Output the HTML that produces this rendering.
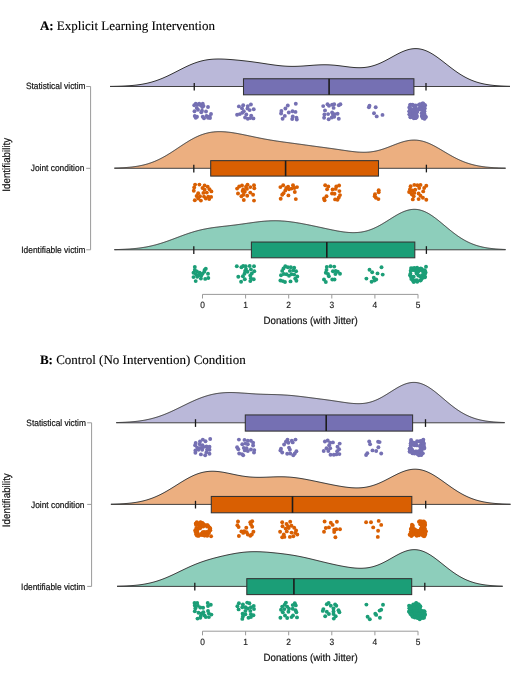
<!DOCTYPE html>
<html><head><meta charset="utf-8"><style>
html,body{margin:0;padding:0;background:#fff;}
svg{display:block;}
text{text-rendering:geometricPrecision;}
.title{font-family:"Liberation Serif",serif;font-size:13px;fill:#000;stroke:#000;stroke-width:0.12px;}
.ylab{font-family:"Liberation Sans",sans-serif;font-size:8.4px;fill:#111;stroke:#111;stroke-width:0.18px;}
.ylab2{font-family:"Liberation Sans",sans-serif;font-size:9.8px;fill:#111;stroke:#111;stroke-width:0.18px;}
.tick{font-family:"Liberation Sans",sans-serif;font-size:8.4px;fill:#222;stroke:#222;stroke-width:0.15px;}
.xlab{font-family:"Liberation Sans",sans-serif;font-size:9.7px;fill:#111;stroke:#111;stroke-width:0.18px;}
</style></head><body>
<svg width="520" height="683" viewBox="0 0 520 683">
<text transform="translate(39.90,29.80)" class="title" style="font-size:13.0px"><tspan font-weight="bold">A:</tspan> Explicit Learning Intervention</text>
<line x1="90.6" y1="86.5" x2="90.6" y2="249.8" stroke="#9a9a9a" stroke-width="1"/>
<line x1="86.19999999999999" y1="86.5" x2="90.6" y2="86.5" stroke="#9a9a9a" stroke-width="1"/>
<text transform="translate(85.50,89.40) scale(1.0,1.1)" class="ylab" style="font-size:8.4px" text-anchor="end">Statistical victim</text>
<line x1="86.19999999999999" y1="168.3" x2="90.6" y2="168.3" stroke="#9a9a9a" stroke-width="1"/>
<text transform="translate(84.30,171.45) scale(1.0,1.1)" class="ylab" style="font-size:8.4px" text-anchor="end">Joint condition</text>
<line x1="86.19999999999999" y1="249.8" x2="90.6" y2="249.8" stroke="#9a9a9a" stroke-width="1"/>
<text transform="translate(85.50,253.10) scale(1.0,1.1)" class="ylab" style="font-size:8.4px" text-anchor="end">Identifiable victim</text>
<text transform="translate(39.90,363.90)" class="title" style="font-size:13.0px"><tspan font-weight="bold">B:</tspan> Control (No Intervention) Condition</text>
<line x1="91.6" y1="422.8" x2="91.6" y2="586.4" stroke="#9a9a9a" stroke-width="1"/>
<line x1="87.19999999999999" y1="422.8" x2="91.6" y2="422.8" stroke="#9a9a9a" stroke-width="1"/>
<text transform="translate(85.90,425.70) scale(1.0,1.1)" class="ylab" style="font-size:8.4px" text-anchor="end">Statistical victim</text>
<line x1="87.19999999999999" y1="504.4" x2="91.6" y2="504.4" stroke="#9a9a9a" stroke-width="1"/>
<text transform="translate(84.50,508.00) scale(1.0,1.1)" class="ylab" style="font-size:8.4px" text-anchor="end">Joint condition</text>
<line x1="87.19999999999999" y1="586.4" x2="91.6" y2="586.4" stroke="#9a9a9a" stroke-width="1"/>
<text transform="translate(85.30,589.70) scale(1.0,1.1)" class="ylab" style="font-size:8.4px" text-anchor="end">Identifiable victim</text>
<path d="M110.0,86.5 L110.0,86.39 L111.0,86.38 L112.0,86.37 L113.0,86.35 L114.0,86.33 L115.0,86.31 L116.0,86.29 L117.0,86.27 L118.0,86.24 L119.0,86.21 L120.0,86.18 L121.0,86.15 L122.0,86.11 L123.0,86.07 L124.0,86.02 L125.0,85.98 L126.0,85.92 L127.0,85.87 L128.0,85.80 L129.0,85.74 L130.0,85.66 L131.0,85.58 L132.0,85.50 L133.0,85.41 L134.0,85.31 L135.0,85.21 L136.0,85.09 L137.0,84.97 L138.0,84.84 L139.0,84.70 L140.0,84.56 L141.0,84.40 L142.0,84.24 L143.0,84.06 L144.0,83.87 L145.0,83.68 L146.0,83.47 L147.0,83.25 L148.0,83.01 L149.0,82.77 L150.0,82.52 L151.0,82.25 L152.0,81.97 L153.0,81.67 L154.0,81.37 L155.0,81.05 L156.0,80.72 L157.0,80.37 L158.0,80.01 L159.0,79.64 L160.0,79.26 L161.0,78.87 L162.0,78.46 L163.0,78.04 L164.0,77.61 L165.0,77.17 L166.0,76.72 L167.0,76.27 L168.0,75.80 L169.0,75.32 L170.0,74.84 L171.0,74.34 L172.0,73.85 L173.0,73.34 L174.0,72.84 L175.0,72.33 L176.0,71.81 L177.0,71.30 L178.0,70.79 L179.0,70.27 L180.0,69.76 L181.0,69.25 L182.0,68.74 L183.0,68.24 L184.0,67.75 L185.0,67.26 L186.0,66.78 L187.0,66.31 L188.0,65.85 L189.0,65.40 L190.0,64.96 L191.0,64.53 L192.0,64.12 L193.0,63.72 L194.0,63.34 L195.0,62.97 L196.0,62.62 L197.0,62.28 L198.0,61.96 L199.0,61.65 L200.0,61.37 L201.0,61.10 L202.0,60.85 L203.0,60.61 L204.0,60.40 L205.0,60.20 L206.0,60.02 L207.0,59.85 L208.0,59.70 L209.0,59.57 L210.0,59.45 L211.0,59.35 L212.0,59.26 L213.0,59.19 L214.0,59.13 L215.0,59.08 L216.0,59.05 L217.0,59.03 L218.0,59.01 L219.0,59.01 L220.0,59.02 L221.0,59.04 L222.0,59.06 L223.0,59.10 L224.0,59.14 L225.0,59.18 L226.0,59.24 L227.0,59.30 L228.0,59.36 L229.0,59.43 L230.0,59.50 L231.0,59.57 L232.0,59.65 L233.0,59.74 L234.0,59.82 L235.0,59.91 L236.0,60.00 L237.0,60.10 L238.0,60.19 L239.0,60.29 L240.0,60.39 L241.0,60.49 L242.0,60.60 L243.0,60.71 L244.0,60.82 L245.0,60.93 L246.0,61.04 L247.0,61.16 L248.0,61.28 L249.0,61.40 L250.0,61.53 L251.0,61.65 L252.0,61.78 L253.0,61.92 L254.0,62.05 L255.0,62.19 L256.0,62.33 L257.0,62.47 L258.0,62.62 L259.0,62.76 L260.0,62.91 L261.0,63.06 L262.0,63.21 L263.0,63.36 L264.0,63.52 L265.0,63.67 L266.0,63.82 L267.0,63.97 L268.0,64.13 L269.0,64.28 L270.0,64.42 L271.0,64.57 L272.0,64.71 L273.0,64.85 L274.0,64.99 L275.0,65.12 L276.0,65.25 L277.0,65.37 L278.0,65.49 L279.0,65.60 L280.0,65.71 L281.0,65.81 L282.0,65.90 L283.0,65.98 L284.0,66.06 L285.0,66.13 L286.0,66.19 L287.0,66.24 L288.0,66.29 L289.0,66.32 L290.0,66.35 L291.0,66.37 L292.0,66.38 L293.0,66.38 L294.0,66.37 L295.0,66.36 L296.0,66.34 L297.0,66.31 L298.0,66.28 L299.0,66.23 L300.0,66.18 L301.0,66.13 L302.0,66.07 L303.0,66.01 L304.0,65.94 L305.0,65.87 L306.0,65.79 L307.0,65.72 L308.0,65.64 L309.0,65.56 L310.0,65.48 L311.0,65.41 L312.0,65.33 L313.0,65.26 L314.0,65.19 L315.0,65.12 L316.0,65.06 L317.0,65.00 L318.0,64.95 L319.0,64.90 L320.0,64.86 L321.0,64.83 L322.0,64.80 L323.0,64.79 L324.0,64.78 L325.0,64.78 L326.0,64.79 L327.0,64.81 L328.0,64.83 L329.0,64.87 L330.0,64.92 L331.0,64.97 L332.0,65.04 L333.0,65.11 L334.0,65.19 L335.0,65.28 L336.0,65.38 L337.0,65.49 L338.0,65.60 L339.0,65.71 L340.0,65.83 L341.0,65.96 L342.0,66.09 L343.0,66.22 L344.0,66.35 L345.0,66.48 L346.0,66.61 L347.0,66.74 L348.0,66.87 L349.0,66.99 L350.0,67.11 L351.0,67.22 L352.0,67.32 L353.0,67.41 L354.0,67.50 L355.0,67.57 L356.0,67.63 L357.0,67.67 L358.0,67.70 L359.0,67.71 L360.0,67.71 L361.0,67.69 L362.0,67.65 L363.0,67.59 L364.0,67.52 L365.0,67.42 L366.0,67.29 L367.0,67.15 L368.0,66.99 L369.0,66.80 L370.0,66.59 L371.0,66.35 L372.0,66.09 L373.0,65.81 L374.0,65.51 L375.0,65.18 L376.0,64.83 L377.0,64.46 L378.0,64.07 L379.0,63.66 L380.0,63.23 L381.0,62.79 L382.0,62.32 L383.0,61.84 L384.0,61.34 L385.0,60.83 L386.0,60.31 L387.0,59.78 L388.0,59.24 L389.0,58.70 L390.0,58.15 L391.0,57.59 L392.0,57.04 L393.0,56.48 L394.0,55.93 L395.0,55.39 L396.0,54.85 L397.0,54.32 L398.0,53.80 L399.0,53.30 L400.0,52.81 L401.0,52.34 L402.0,51.89 L403.0,51.46 L404.0,51.05 L405.0,50.67 L406.0,50.32 L407.0,50.00 L408.0,49.70 L409.0,49.44 L410.0,49.21 L411.0,49.02 L412.0,48.87 L413.0,48.75 L414.0,48.66 L415.0,48.62 L416.0,48.62 L417.0,48.65 L418.0,48.73 L419.0,48.84 L420.0,49.00 L421.0,49.20 L422.0,49.43 L423.0,49.70 L424.0,50.02 L425.0,50.37 L426.0,50.75 L427.0,51.18 L428.0,51.63 L429.0,52.13 L430.0,52.65 L431.0,53.20 L432.0,53.78 L433.0,54.39 L434.0,55.02 L435.0,55.68 L436.0,56.36 L437.0,57.06 L438.0,57.77 L439.0,58.51 L440.0,59.25 L441.0,60.01 L442.0,60.77 L443.0,61.55 L444.0,62.33 L445.0,63.11 L446.0,63.89 L447.0,64.68 L448.0,65.46 L449.0,66.24 L450.0,67.01 L451.0,67.78 L452.0,68.54 L453.0,69.29 L454.0,70.02 L455.0,70.75 L456.0,71.46 L457.0,72.15 L458.0,72.84 L459.0,73.50 L460.0,74.15 L461.0,74.78 L462.0,75.39 L463.0,75.98 L464.0,76.55 L465.0,77.10 L466.0,77.64 L467.0,78.15 L468.0,78.64 L469.0,79.11 L470.0,79.57 L471.0,80.00 L472.0,80.41 L473.0,80.81 L474.0,81.18 L475.0,81.54 L476.0,81.88 L477.0,82.20 L478.0,82.50 L479.0,82.79 L480.0,83.06 L481.0,83.31 L482.0,83.55 L483.0,83.78 L484.0,83.99 L485.0,84.19 L486.0,84.37 L487.0,84.54 L488.0,84.70 L489.0,84.85 L490.0,84.99 L491.0,85.12 L492.0,85.24 L493.0,85.35 L494.0,85.45 L495.0,85.55 L496.0,85.63 L497.0,85.71 L498.0,85.79 L499.0,85.85 L500.0,85.91 L501.0,85.97 L502.0,86.02 L503.0,86.07 L504.0,86.11 L505.0,86.15 L506.0,86.19 L507.0,86.22 L508.0,86.25 L509.0,86.28 L510.0,86.30 L510.0,86.5 Z" fill="#bab8d9" stroke="none"/>
<path d="M110.0,86.39 L111.0,86.38 L112.0,86.37 L113.0,86.35 L114.0,86.33 L115.0,86.31 L116.0,86.29 L117.0,86.27 L118.0,86.24 L119.0,86.21 L120.0,86.18 L121.0,86.15 L122.0,86.11 L123.0,86.07 L124.0,86.02 L125.0,85.98 L126.0,85.92 L127.0,85.87 L128.0,85.80 L129.0,85.74 L130.0,85.66 L131.0,85.58 L132.0,85.50 L133.0,85.41 L134.0,85.31 L135.0,85.21 L136.0,85.09 L137.0,84.97 L138.0,84.84 L139.0,84.70 L140.0,84.56 L141.0,84.40 L142.0,84.24 L143.0,84.06 L144.0,83.87 L145.0,83.68 L146.0,83.47 L147.0,83.25 L148.0,83.01 L149.0,82.77 L150.0,82.52 L151.0,82.25 L152.0,81.97 L153.0,81.67 L154.0,81.37 L155.0,81.05 L156.0,80.72 L157.0,80.37 L158.0,80.01 L159.0,79.64 L160.0,79.26 L161.0,78.87 L162.0,78.46 L163.0,78.04 L164.0,77.61 L165.0,77.17 L166.0,76.72 L167.0,76.27 L168.0,75.80 L169.0,75.32 L170.0,74.84 L171.0,74.34 L172.0,73.85 L173.0,73.34 L174.0,72.84 L175.0,72.33 L176.0,71.81 L177.0,71.30 L178.0,70.79 L179.0,70.27 L180.0,69.76 L181.0,69.25 L182.0,68.74 L183.0,68.24 L184.0,67.75 L185.0,67.26 L186.0,66.78 L187.0,66.31 L188.0,65.85 L189.0,65.40 L190.0,64.96 L191.0,64.53 L192.0,64.12 L193.0,63.72 L194.0,63.34 L195.0,62.97 L196.0,62.62 L197.0,62.28 L198.0,61.96 L199.0,61.65 L200.0,61.37 L201.0,61.10 L202.0,60.85 L203.0,60.61 L204.0,60.40 L205.0,60.20 L206.0,60.02 L207.0,59.85 L208.0,59.70 L209.0,59.57 L210.0,59.45 L211.0,59.35 L212.0,59.26 L213.0,59.19 L214.0,59.13 L215.0,59.08 L216.0,59.05 L217.0,59.03 L218.0,59.01 L219.0,59.01 L220.0,59.02 L221.0,59.04 L222.0,59.06 L223.0,59.10 L224.0,59.14 L225.0,59.18 L226.0,59.24 L227.0,59.30 L228.0,59.36 L229.0,59.43 L230.0,59.50 L231.0,59.57 L232.0,59.65 L233.0,59.74 L234.0,59.82 L235.0,59.91 L236.0,60.00 L237.0,60.10 L238.0,60.19 L239.0,60.29 L240.0,60.39 L241.0,60.49 L242.0,60.60 L243.0,60.71 L244.0,60.82 L245.0,60.93 L246.0,61.04 L247.0,61.16 L248.0,61.28 L249.0,61.40 L250.0,61.53 L251.0,61.65 L252.0,61.78 L253.0,61.92 L254.0,62.05 L255.0,62.19 L256.0,62.33 L257.0,62.47 L258.0,62.62 L259.0,62.76 L260.0,62.91 L261.0,63.06 L262.0,63.21 L263.0,63.36 L264.0,63.52 L265.0,63.67 L266.0,63.82 L267.0,63.97 L268.0,64.13 L269.0,64.28 L270.0,64.42 L271.0,64.57 L272.0,64.71 L273.0,64.85 L274.0,64.99 L275.0,65.12 L276.0,65.25 L277.0,65.37 L278.0,65.49 L279.0,65.60 L280.0,65.71 L281.0,65.81 L282.0,65.90 L283.0,65.98 L284.0,66.06 L285.0,66.13 L286.0,66.19 L287.0,66.24 L288.0,66.29 L289.0,66.32 L290.0,66.35 L291.0,66.37 L292.0,66.38 L293.0,66.38 L294.0,66.37 L295.0,66.36 L296.0,66.34 L297.0,66.31 L298.0,66.28 L299.0,66.23 L300.0,66.18 L301.0,66.13 L302.0,66.07 L303.0,66.01 L304.0,65.94 L305.0,65.87 L306.0,65.79 L307.0,65.72 L308.0,65.64 L309.0,65.56 L310.0,65.48 L311.0,65.41 L312.0,65.33 L313.0,65.26 L314.0,65.19 L315.0,65.12 L316.0,65.06 L317.0,65.00 L318.0,64.95 L319.0,64.90 L320.0,64.86 L321.0,64.83 L322.0,64.80 L323.0,64.79 L324.0,64.78 L325.0,64.78 L326.0,64.79 L327.0,64.81 L328.0,64.83 L329.0,64.87 L330.0,64.92 L331.0,64.97 L332.0,65.04 L333.0,65.11 L334.0,65.19 L335.0,65.28 L336.0,65.38 L337.0,65.49 L338.0,65.60 L339.0,65.71 L340.0,65.83 L341.0,65.96 L342.0,66.09 L343.0,66.22 L344.0,66.35 L345.0,66.48 L346.0,66.61 L347.0,66.74 L348.0,66.87 L349.0,66.99 L350.0,67.11 L351.0,67.22 L352.0,67.32 L353.0,67.41 L354.0,67.50 L355.0,67.57 L356.0,67.63 L357.0,67.67 L358.0,67.70 L359.0,67.71 L360.0,67.71 L361.0,67.69 L362.0,67.65 L363.0,67.59 L364.0,67.52 L365.0,67.42 L366.0,67.29 L367.0,67.15 L368.0,66.99 L369.0,66.80 L370.0,66.59 L371.0,66.35 L372.0,66.09 L373.0,65.81 L374.0,65.51 L375.0,65.18 L376.0,64.83 L377.0,64.46 L378.0,64.07 L379.0,63.66 L380.0,63.23 L381.0,62.79 L382.0,62.32 L383.0,61.84 L384.0,61.34 L385.0,60.83 L386.0,60.31 L387.0,59.78 L388.0,59.24 L389.0,58.70 L390.0,58.15 L391.0,57.59 L392.0,57.04 L393.0,56.48 L394.0,55.93 L395.0,55.39 L396.0,54.85 L397.0,54.32 L398.0,53.80 L399.0,53.30 L400.0,52.81 L401.0,52.34 L402.0,51.89 L403.0,51.46 L404.0,51.05 L405.0,50.67 L406.0,50.32 L407.0,50.00 L408.0,49.70 L409.0,49.44 L410.0,49.21 L411.0,49.02 L412.0,48.87 L413.0,48.75 L414.0,48.66 L415.0,48.62 L416.0,48.62 L417.0,48.65 L418.0,48.73 L419.0,48.84 L420.0,49.00 L421.0,49.20 L422.0,49.43 L423.0,49.70 L424.0,50.02 L425.0,50.37 L426.0,50.75 L427.0,51.18 L428.0,51.63 L429.0,52.13 L430.0,52.65 L431.0,53.20 L432.0,53.78 L433.0,54.39 L434.0,55.02 L435.0,55.68 L436.0,56.36 L437.0,57.06 L438.0,57.77 L439.0,58.51 L440.0,59.25 L441.0,60.01 L442.0,60.77 L443.0,61.55 L444.0,62.33 L445.0,63.11 L446.0,63.89 L447.0,64.68 L448.0,65.46 L449.0,66.24 L450.0,67.01 L451.0,67.78 L452.0,68.54 L453.0,69.29 L454.0,70.02 L455.0,70.75 L456.0,71.46 L457.0,72.15 L458.0,72.84 L459.0,73.50 L460.0,74.15 L461.0,74.78 L462.0,75.39 L463.0,75.98 L464.0,76.55 L465.0,77.10 L466.0,77.64 L467.0,78.15 L468.0,78.64 L469.0,79.11 L470.0,79.57 L471.0,80.00 L472.0,80.41 L473.0,80.81 L474.0,81.18 L475.0,81.54 L476.0,81.88 L477.0,82.20 L478.0,82.50 L479.0,82.79 L480.0,83.06 L481.0,83.31 L482.0,83.55 L483.0,83.78 L484.0,83.99 L485.0,84.19 L486.0,84.37 L487.0,84.54 L488.0,84.70 L489.0,84.85 L490.0,84.99 L491.0,85.12 L492.0,85.24 L493.0,85.35 L494.0,85.45 L495.0,85.55 L496.0,85.63 L497.0,85.71 L498.0,85.79 L499.0,85.85 L500.0,85.91 L501.0,85.97 L502.0,86.02 L503.0,86.07 L504.0,86.11 L505.0,86.15 L506.0,86.19 L507.0,86.22 L508.0,86.25 L509.0,86.28 L510.0,86.30" fill="none" stroke="#333" stroke-width="1.0"/>
<line x1="110" y1="86.5" x2="510" y2="86.5" stroke="#3a3a3a" stroke-width="0.95"/>
<line x1="194.25" y1="82.9" x2="194.25" y2="90.6" stroke="#1a1a1a" stroke-width="1.3"/>
<line x1="426.0" y1="82.9" x2="426.0" y2="90.6" stroke="#1a1a1a" stroke-width="1.3"/>
<rect x="243.5" y="78.75" width="170.40" height="16.05" fill="#7570b3" stroke="#333333" stroke-width="1.05"/>
<line x1="329.1" y1="78.75" x2="329.1" y2="94.8" stroke="#1c1c1c" stroke-width="1.6"/>
<circle cx="194.25" cy="105.25" r="1.95" fill="#7570b3"/>
<circle cx="195.75" cy="103.75" r="1.95" fill="#7570b3"/>
<circle cx="197.50" cy="104.75" r="1.95" fill="#7570b3"/>
<circle cx="199.25" cy="103.75" r="1.95" fill="#7570b3"/>
<circle cx="200.75" cy="105.25" r="1.95" fill="#7570b3"/>
<circle cx="202.75" cy="103.75" r="1.95" fill="#7570b3"/>
<circle cx="203.50" cy="106.00" r="1.95" fill="#7570b3"/>
<circle cx="202.25" cy="107.00" r="1.95" fill="#7570b3"/>
<circle cx="208.00" cy="107.00" r="1.95" fill="#7570b3"/>
<circle cx="196.75" cy="108.00" r="1.95" fill="#7570b3"/>
<circle cx="194.50" cy="111.25" r="1.95" fill="#7570b3"/>
<circle cx="198.00" cy="109.75" r="1.95" fill="#7570b3"/>
<circle cx="202.00" cy="110.75" r="1.95" fill="#7570b3"/>
<circle cx="201.25" cy="112.25" r="1.95" fill="#7570b3"/>
<circle cx="206.00" cy="111.50" r="1.95" fill="#7570b3"/>
<circle cx="211.00" cy="114.00" r="1.95" fill="#7570b3"/>
<circle cx="194.75" cy="116.00" r="1.95" fill="#7570b3"/>
<circle cx="197.00" cy="116.75" r="1.95" fill="#7570b3"/>
<circle cx="195.75" cy="117.75" r="1.95" fill="#7570b3"/>
<circle cx="202.75" cy="116.75" r="1.95" fill="#7570b3"/>
<circle cx="204.00" cy="118.25" r="1.95" fill="#7570b3"/>
<circle cx="206.50" cy="116.00" r="1.95" fill="#7570b3"/>
<circle cx="208.00" cy="117.75" r="1.95" fill="#7570b3"/>
<circle cx="209.50" cy="116.50" r="1.95" fill="#7570b3"/>
<circle cx="210.00" cy="118.00" r="1.95" fill="#7570b3"/>
<circle cx="238.90" cy="106.40" r="1.95" fill="#7570b3"/>
<circle cx="243.20" cy="105.20" r="1.95" fill="#7570b3"/>
<circle cx="242.00" cy="108.20" r="1.95" fill="#7570b3"/>
<circle cx="247.80" cy="106.10" r="1.95" fill="#7570b3"/>
<circle cx="250.90" cy="104.50" r="1.95" fill="#7570b3"/>
<circle cx="247.50" cy="108.50" r="1.95" fill="#7570b3"/>
<circle cx="249.70" cy="110.10" r="1.95" fill="#7570b3"/>
<circle cx="253.70" cy="109.20" r="1.95" fill="#7570b3"/>
<circle cx="243.80" cy="111.30" r="1.95" fill="#7570b3"/>
<circle cx="237.10" cy="114.70" r="1.95" fill="#7570b3"/>
<circle cx="239.80" cy="114.10" r="1.95" fill="#7570b3"/>
<circle cx="242.30" cy="112.80" r="1.95" fill="#7570b3"/>
<circle cx="246.30" cy="114.40" r="1.95" fill="#7570b3"/>
<circle cx="245.10" cy="117.50" r="1.95" fill="#7570b3"/>
<circle cx="247.80" cy="118.70" r="1.95" fill="#7570b3"/>
<circle cx="251.20" cy="115.60" r="1.95" fill="#7570b3"/>
<circle cx="253.40" cy="118.40" r="1.95" fill="#7570b3"/>
<circle cx="250.30" cy="118.10" r="1.95" fill="#7570b3"/>
<circle cx="287.80" cy="105.50" r="1.95" fill="#7570b3"/>
<circle cx="295.80" cy="103.80" r="1.95" fill="#7570b3"/>
<circle cx="285.40" cy="108.50" r="1.95" fill="#7570b3"/>
<circle cx="281.40" cy="111.00" r="1.95" fill="#7570b3"/>
<circle cx="281.10" cy="113.50" r="1.95" fill="#7570b3"/>
<circle cx="288.80" cy="112.50" r="1.95" fill="#7570b3"/>
<circle cx="292.50" cy="111.30" r="1.95" fill="#7570b3"/>
<circle cx="295.50" cy="111.90" r="1.95" fill="#7570b3"/>
<circle cx="284.80" cy="115.90" r="1.95" fill="#7570b3"/>
<circle cx="282.60" cy="118.70" r="1.95" fill="#7570b3"/>
<circle cx="292.80" cy="116.50" r="1.95" fill="#7570b3"/>
<circle cx="292.20" cy="119.00" r="1.95" fill="#7570b3"/>
<circle cx="296.50" cy="117.80" r="1.95" fill="#7570b3"/>
<circle cx="296.80" cy="119.60" r="1.95" fill="#7570b3"/>
<circle cx="323.20" cy="106.10" r="1.95" fill="#7570b3"/>
<circle cx="327.50" cy="104.20" r="1.95" fill="#7570b3"/>
<circle cx="329.00" cy="105.80" r="1.95" fill="#7570b3"/>
<circle cx="332.10" cy="104.80" r="1.95" fill="#7570b3"/>
<circle cx="334.20" cy="104.20" r="1.95" fill="#7570b3"/>
<circle cx="333.60" cy="107.90" r="1.95" fill="#7570b3"/>
<circle cx="338.80" cy="105.20" r="1.95" fill="#7570b3"/>
<circle cx="340.40" cy="104.20" r="1.95" fill="#7570b3"/>
<circle cx="325.00" cy="110.40" r="1.95" fill="#7570b3"/>
<circle cx="324.40" cy="114.40" r="1.95" fill="#7570b3"/>
<circle cx="328.10" cy="114.10" r="1.95" fill="#7570b3"/>
<circle cx="332.10" cy="112.50" r="1.95" fill="#7570b3"/>
<circle cx="333.00" cy="114.70" r="1.95" fill="#7570b3"/>
<circle cx="334.80" cy="114.10" r="1.95" fill="#7570b3"/>
<circle cx="337.60" cy="113.80" r="1.95" fill="#7570b3"/>
<circle cx="324.10" cy="117.80" r="1.95" fill="#7570b3"/>
<circle cx="328.70" cy="119.30" r="1.95" fill="#7570b3"/>
<circle cx="331.80" cy="117.50" r="1.95" fill="#7570b3"/>
<circle cx="334.20" cy="116.80" r="1.95" fill="#7570b3"/>
<circle cx="338.80" cy="118.70" r="1.95" fill="#7570b3"/>
<circle cx="369.50" cy="105.80" r="1.95" fill="#7570b3"/>
<circle cx="368.90" cy="107.30" r="1.95" fill="#7570b3"/>
<circle cx="375.70" cy="107.30" r="1.95" fill="#7570b3"/>
<circle cx="374.00" cy="113.30" r="1.95" fill="#7570b3"/>
<circle cx="376.70" cy="116.40" r="1.95" fill="#7570b3"/>
<circle cx="382.50" cy="114.90" r="1.95" fill="#7570b3"/>
<circle cx="422.35" cy="103.50" r="1.95" fill="#7570b3"/>
<circle cx="410.09" cy="105.04" r="1.95" fill="#7570b3"/>
<circle cx="413.32" cy="105.18" r="1.95" fill="#7570b3"/>
<circle cx="415.74" cy="105.42" r="1.95" fill="#7570b3"/>
<circle cx="418.78" cy="104.87" r="1.95" fill="#7570b3"/>
<circle cx="421.37" cy="105.03" r="1.95" fill="#7570b3"/>
<circle cx="422.71" cy="105.15" r="1.95" fill="#7570b3"/>
<circle cx="425.08" cy="105.26" r="1.95" fill="#7570b3"/>
<circle cx="420.15" cy="107.19" r="1.95" fill="#7570b3"/>
<circle cx="422.29" cy="106.79" r="1.95" fill="#7570b3"/>
<circle cx="424.27" cy="106.52" r="1.95" fill="#7570b3"/>
<circle cx="410.11" cy="107.97" r="1.95" fill="#7570b3"/>
<circle cx="413.85" cy="108.63" r="1.95" fill="#7570b3"/>
<circle cx="415.68" cy="108.43" r="1.95" fill="#7570b3"/>
<circle cx="418.80" cy="108.75" r="1.95" fill="#7570b3"/>
<circle cx="421.16" cy="108.14" r="1.95" fill="#7570b3"/>
<circle cx="423.00" cy="108.40" r="1.95" fill="#7570b3"/>
<circle cx="424.77" cy="108.27" r="1.95" fill="#7570b3"/>
<circle cx="410.23" cy="109.82" r="1.95" fill="#7570b3"/>
<circle cx="412.26" cy="110.14" r="1.95" fill="#7570b3"/>
<circle cx="414.77" cy="110.33" r="1.95" fill="#7570b3"/>
<circle cx="416.62" cy="110.35" r="1.95" fill="#7570b3"/>
<circle cx="421.62" cy="109.63" r="1.95" fill="#7570b3"/>
<circle cx="424.18" cy="109.84" r="1.95" fill="#7570b3"/>
<circle cx="409.40" cy="111.51" r="1.95" fill="#7570b3"/>
<circle cx="411.79" cy="111.68" r="1.95" fill="#7570b3"/>
<circle cx="413.34" cy="111.69" r="1.95" fill="#7570b3"/>
<circle cx="414.97" cy="111.62" r="1.95" fill="#7570b3"/>
<circle cx="417.23" cy="111.44" r="1.95" fill="#7570b3"/>
<circle cx="423.10" cy="112.00" r="1.95" fill="#7570b3"/>
<circle cx="424.47" cy="111.28" r="1.95" fill="#7570b3"/>
<circle cx="410.81" cy="113.41" r="1.95" fill="#7570b3"/>
<circle cx="412.30" cy="113.80" r="1.95" fill="#7570b3"/>
<circle cx="414.72" cy="113.39" r="1.95" fill="#7570b3"/>
<circle cx="416.10" cy="113.50" r="1.95" fill="#7570b3"/>
<circle cx="421.65" cy="113.19" r="1.95" fill="#7570b3"/>
<circle cx="424.37" cy="113.71" r="1.95" fill="#7570b3"/>
<circle cx="409.48" cy="114.58" r="1.95" fill="#7570b3"/>
<circle cx="411.94" cy="114.61" r="1.95" fill="#7570b3"/>
<circle cx="413.79" cy="115.44" r="1.95" fill="#7570b3"/>
<circle cx="415.46" cy="114.73" r="1.95" fill="#7570b3"/>
<circle cx="422.74" cy="115.18" r="1.95" fill="#7570b3"/>
<circle cx="410.49" cy="117.01" r="1.95" fill="#7570b3"/>
<circle cx="412.91" cy="116.24" r="1.95" fill="#7570b3"/>
<circle cx="414.18" cy="116.52" r="1.95" fill="#7570b3"/>
<circle cx="416.79" cy="116.93" r="1.95" fill="#7570b3"/>
<circle cx="422.44" cy="116.54" r="1.95" fill="#7570b3"/>
<circle cx="424.29" cy="116.85" r="1.95" fill="#7570b3"/>
<circle cx="425.84" cy="117.11" r="1.95" fill="#7570b3"/>
<circle cx="413.81" cy="118.21" r="1.95" fill="#7570b3"/>
<circle cx="415.26" cy="118.14" r="1.95" fill="#7570b3"/>
<circle cx="422.64" cy="117.92" r="1.95" fill="#7570b3"/>
<circle cx="424.52" cy="118.66" r="1.95" fill="#7570b3"/>
<circle cx="410.54" cy="104.80" r="1.95" fill="#7570b3"/>
<circle cx="409.31" cy="107.47" r="1.95" fill="#7570b3"/>
<circle cx="409.39" cy="111.13" r="1.95" fill="#7570b3"/>
<circle cx="409.53" cy="114.31" r="1.95" fill="#7570b3"/>
<circle cx="410.47" cy="117.22" r="1.95" fill="#7570b3"/>
<circle cx="413.83" cy="117.36" r="1.95" fill="#7570b3"/>
<circle cx="416.01" cy="117.82" r="1.95" fill="#7570b3"/>
<circle cx="416.88" cy="115.72" r="1.95" fill="#7570b3"/>
<circle cx="416.99" cy="111.97" r="1.95" fill="#7570b3"/>
<circle cx="418.58" cy="109.40" r="1.95" fill="#7570b3"/>
<circle cx="420.76" cy="109.41" r="1.95" fill="#7570b3"/>
<circle cx="421.78" cy="115.88" r="1.95" fill="#7570b3"/>
<circle cx="422.72" cy="117.57" r="1.95" fill="#7570b3"/>
<circle cx="424.47" cy="118.56" r="1.95" fill="#7570b3"/>
<circle cx="425.67" cy="116.78" r="1.95" fill="#7570b3"/>
<circle cx="424.39" cy="114.17" r="1.95" fill="#7570b3"/>
<circle cx="423.68" cy="111.04" r="1.95" fill="#7570b3"/>
<circle cx="424.03" cy="107.71" r="1.95" fill="#7570b3"/>
<circle cx="424.22" cy="104.83" r="1.95" fill="#7570b3"/>
<circle cx="423.22" cy="103.52" r="1.95" fill="#7570b3"/>
<circle cx="419.88" cy="104.21" r="1.95" fill="#7570b3"/>
<circle cx="412.30" cy="104.82" r="1.95" fill="#7570b3"/>
<path d="M114.4,168.3 L114.4,168.06 L115.4,168.04 L116.4,168.01 L117.4,167.97 L118.4,167.94 L119.4,167.90 L120.4,167.86 L121.4,167.81 L122.4,167.76 L123.4,167.70 L124.4,167.64 L125.4,167.57 L126.4,167.50 L127.4,167.43 L128.4,167.34 L129.4,167.25 L130.4,167.15 L131.4,167.05 L132.4,166.93 L133.4,166.81 L134.4,166.68 L135.4,166.54 L136.4,166.38 L137.4,166.22 L138.4,166.05 L139.4,165.87 L140.4,165.67 L141.4,165.46 L142.4,165.24 L143.4,165.01 L144.4,164.76 L145.4,164.50 L146.4,164.23 L147.4,163.94 L148.4,163.63 L149.4,163.31 L150.4,162.97 L151.4,162.62 L152.4,162.25 L153.4,161.87 L154.4,161.47 L155.4,161.05 L156.4,160.62 L157.4,160.17 L158.4,159.70 L159.4,159.22 L160.4,158.73 L161.4,158.21 L162.4,157.68 L163.4,157.14 L164.4,156.59 L165.4,156.02 L166.4,155.43 L167.4,154.84 L168.4,154.23 L169.4,153.61 L170.4,152.99 L171.4,152.35 L172.4,151.70 L173.4,151.05 L174.4,150.40 L175.4,149.74 L176.4,149.07 L177.4,148.40 L178.4,147.73 L179.4,147.07 L180.4,146.40 L181.4,145.74 L182.4,145.08 L183.4,144.42 L184.4,143.77 L185.4,143.13 L186.4,142.50 L187.4,141.88 L188.4,141.27 L189.4,140.67 L190.4,140.09 L191.4,139.52 L192.4,138.97 L193.4,138.43 L194.4,137.91 L195.4,137.41 L196.4,136.93 L197.4,136.47 L198.4,136.02 L199.4,135.60 L200.4,135.20 L201.4,134.82 L202.4,134.47 L203.4,134.13 L204.4,133.82 L205.4,133.53 L206.4,133.26 L207.4,133.01 L208.4,132.78 L209.4,132.58 L210.4,132.40 L211.4,132.23 L212.4,132.09 L213.4,131.97 L214.4,131.87 L215.4,131.79 L216.4,131.72 L217.4,131.67 L218.4,131.65 L219.4,131.63 L220.4,131.64 L221.4,131.65 L222.4,131.69 L223.4,131.74 L224.4,131.80 L225.4,131.87 L226.4,131.95 L227.4,132.05 L228.4,132.16 L229.4,132.28 L230.4,132.40 L231.4,132.54 L232.4,132.68 L233.4,132.84 L234.4,133.00 L235.4,133.16 L236.4,133.34 L237.4,133.51 L238.4,133.70 L239.4,133.88 L240.4,134.08 L241.4,134.27 L242.4,134.47 L243.4,134.67 L244.4,134.88 L245.4,135.09 L246.4,135.29 L247.4,135.50 L248.4,135.72 L249.4,135.93 L250.4,136.14 L251.4,136.35 L252.4,136.56 L253.4,136.77 L254.4,136.98 L255.4,137.19 L256.4,137.40 L257.4,137.60 L258.4,137.81 L259.4,138.01 L260.4,138.21 L261.4,138.40 L262.4,138.60 L263.4,138.79 L264.4,138.98 L265.4,139.16 L266.4,139.34 L267.4,139.52 L268.4,139.70 L269.4,139.87 L270.4,140.04 L271.4,140.20 L272.4,140.37 L273.4,140.53 L274.4,140.69 L275.4,140.84 L276.4,140.99 L277.4,141.14 L278.4,141.29 L279.4,141.43 L280.4,141.58 L281.4,141.72 L282.4,141.86 L283.4,142.00 L284.4,142.14 L285.4,142.27 L286.4,142.41 L287.4,142.55 L288.4,142.68 L289.4,142.82 L290.4,142.95 L291.4,143.09 L292.4,143.22 L293.4,143.35 L294.4,143.49 L295.4,143.63 L296.4,143.76 L297.4,143.90 L298.4,144.03 L299.4,144.17 L300.4,144.31 L301.4,144.44 L302.4,144.58 L303.4,144.72 L304.4,144.86 L305.4,145.00 L306.4,145.13 L307.4,145.27 L308.4,145.41 L309.4,145.55 L310.4,145.68 L311.4,145.82 L312.4,145.96 L313.4,146.09 L314.4,146.23 L315.4,146.36 L316.4,146.50 L317.4,146.63 L318.4,146.77 L319.4,146.90 L320.4,147.04 L321.4,147.17 L322.4,147.31 L323.4,147.44 L324.4,147.57 L325.4,147.71 L326.4,147.84 L327.4,147.98 L328.4,148.12 L329.4,148.25 L330.4,148.39 L331.4,148.53 L332.4,148.67 L333.4,148.81 L334.4,148.95 L335.4,149.09 L336.4,149.24 L337.4,149.38 L338.4,149.53 L339.4,149.68 L340.4,149.82 L341.4,149.97 L342.4,150.12 L343.4,150.26 L344.4,150.41 L345.4,150.56 L346.4,150.70 L347.4,150.84 L348.4,150.98 L349.4,151.12 L350.4,151.25 L351.4,151.38 L352.4,151.50 L353.4,151.61 L354.4,151.72 L355.4,151.83 L356.4,151.92 L357.4,152.00 L358.4,152.08 L359.4,152.14 L360.4,152.19 L361.4,152.23 L362.4,152.26 L363.4,152.27 L364.4,152.27 L365.4,152.25 L366.4,152.22 L367.4,152.17 L368.4,152.10 L369.4,152.01 L370.4,151.91 L371.4,151.79 L372.4,151.65 L373.4,151.49 L374.4,151.31 L375.4,151.12 L376.4,150.91 L377.4,150.68 L378.4,150.43 L379.4,150.16 L380.4,149.88 L381.4,149.58 L382.4,149.27 L383.4,148.94 L384.4,148.61 L385.4,148.25 L386.4,147.89 L387.4,147.52 L388.4,147.15 L389.4,146.76 L390.4,146.37 L391.4,145.98 L392.4,145.59 L393.4,145.20 L394.4,144.81 L395.4,144.42 L396.4,144.04 L397.4,143.66 L398.4,143.30 L399.4,142.95 L400.4,142.61 L401.4,142.28 L402.4,141.98 L403.4,141.68 L404.4,141.41 L405.4,141.16 L406.4,140.94 L407.4,140.73 L408.4,140.56 L409.4,140.40 L410.4,140.28 L411.4,140.18 L412.4,140.12 L413.4,140.08 L414.4,140.07 L415.4,140.10 L416.4,140.15 L417.4,140.24 L418.4,140.36 L419.4,140.51 L420.4,140.69 L421.4,140.90 L422.4,141.14 L423.4,141.41 L424.4,141.70 L425.4,142.03 L426.4,142.38 L427.4,142.76 L428.4,143.16 L429.4,143.59 L430.4,144.04 L431.4,144.51 L432.4,144.99 L433.4,145.50 L434.4,146.02 L435.4,146.56 L436.4,147.11 L437.4,147.67 L438.4,148.24 L439.4,148.81 L440.4,149.40 L441.4,149.99 L442.4,150.58 L443.4,151.18 L444.4,151.77 L445.4,152.37 L446.4,152.96 L447.4,153.55 L448.4,154.13 L449.4,154.71 L450.4,155.27 L451.4,155.84 L452.4,156.39 L453.4,156.93 L454.4,157.46 L455.4,157.98 L456.4,158.48 L457.4,158.97 L458.4,159.45 L459.4,159.92 L460.4,160.37 L461.4,160.80 L462.4,161.22 L463.4,161.63 L464.4,162.02 L465.4,162.39 L466.4,162.75 L467.4,163.09 L468.4,163.42 L469.4,163.73 L470.4,164.03 L471.4,164.32 L472.4,164.59 L473.4,164.84 L474.4,165.08 L475.4,165.31 L476.4,165.53 L477.4,165.73 L478.4,165.92 L479.4,166.10 L480.4,166.27 L481.4,166.43 L482.4,166.58 L483.4,166.72 L484.4,166.85 L485.4,166.97 L486.4,167.08 L487.4,167.18 L488.4,167.28 L489.4,167.37 L490.4,167.45 L491.4,167.52 L492.4,167.59 L493.4,167.66 L494.4,167.72 L495.4,167.77 L496.4,167.82 L497.4,167.87 L498.4,167.91 L499.4,167.95 L500.4,167.98 L501.4,168.02 L502.4,168.04 L503.4,168.07 L504.4,168.09 L505.4,168.12 L505.6,168.12 L505.6,168.3 Z" fill="#ecaf80" stroke="none"/>
<path d="M114.4,168.06 L115.4,168.04 L116.4,168.01 L117.4,167.97 L118.4,167.94 L119.4,167.90 L120.4,167.86 L121.4,167.81 L122.4,167.76 L123.4,167.70 L124.4,167.64 L125.4,167.57 L126.4,167.50 L127.4,167.43 L128.4,167.34 L129.4,167.25 L130.4,167.15 L131.4,167.05 L132.4,166.93 L133.4,166.81 L134.4,166.68 L135.4,166.54 L136.4,166.38 L137.4,166.22 L138.4,166.05 L139.4,165.87 L140.4,165.67 L141.4,165.46 L142.4,165.24 L143.4,165.01 L144.4,164.76 L145.4,164.50 L146.4,164.23 L147.4,163.94 L148.4,163.63 L149.4,163.31 L150.4,162.97 L151.4,162.62 L152.4,162.25 L153.4,161.87 L154.4,161.47 L155.4,161.05 L156.4,160.62 L157.4,160.17 L158.4,159.70 L159.4,159.22 L160.4,158.73 L161.4,158.21 L162.4,157.68 L163.4,157.14 L164.4,156.59 L165.4,156.02 L166.4,155.43 L167.4,154.84 L168.4,154.23 L169.4,153.61 L170.4,152.99 L171.4,152.35 L172.4,151.70 L173.4,151.05 L174.4,150.40 L175.4,149.74 L176.4,149.07 L177.4,148.40 L178.4,147.73 L179.4,147.07 L180.4,146.40 L181.4,145.74 L182.4,145.08 L183.4,144.42 L184.4,143.77 L185.4,143.13 L186.4,142.50 L187.4,141.88 L188.4,141.27 L189.4,140.67 L190.4,140.09 L191.4,139.52 L192.4,138.97 L193.4,138.43 L194.4,137.91 L195.4,137.41 L196.4,136.93 L197.4,136.47 L198.4,136.02 L199.4,135.60 L200.4,135.20 L201.4,134.82 L202.4,134.47 L203.4,134.13 L204.4,133.82 L205.4,133.53 L206.4,133.26 L207.4,133.01 L208.4,132.78 L209.4,132.58 L210.4,132.40 L211.4,132.23 L212.4,132.09 L213.4,131.97 L214.4,131.87 L215.4,131.79 L216.4,131.72 L217.4,131.67 L218.4,131.65 L219.4,131.63 L220.4,131.64 L221.4,131.65 L222.4,131.69 L223.4,131.74 L224.4,131.80 L225.4,131.87 L226.4,131.95 L227.4,132.05 L228.4,132.16 L229.4,132.28 L230.4,132.40 L231.4,132.54 L232.4,132.68 L233.4,132.84 L234.4,133.00 L235.4,133.16 L236.4,133.34 L237.4,133.51 L238.4,133.70 L239.4,133.88 L240.4,134.08 L241.4,134.27 L242.4,134.47 L243.4,134.67 L244.4,134.88 L245.4,135.09 L246.4,135.29 L247.4,135.50 L248.4,135.72 L249.4,135.93 L250.4,136.14 L251.4,136.35 L252.4,136.56 L253.4,136.77 L254.4,136.98 L255.4,137.19 L256.4,137.40 L257.4,137.60 L258.4,137.81 L259.4,138.01 L260.4,138.21 L261.4,138.40 L262.4,138.60 L263.4,138.79 L264.4,138.98 L265.4,139.16 L266.4,139.34 L267.4,139.52 L268.4,139.70 L269.4,139.87 L270.4,140.04 L271.4,140.20 L272.4,140.37 L273.4,140.53 L274.4,140.69 L275.4,140.84 L276.4,140.99 L277.4,141.14 L278.4,141.29 L279.4,141.43 L280.4,141.58 L281.4,141.72 L282.4,141.86 L283.4,142.00 L284.4,142.14 L285.4,142.27 L286.4,142.41 L287.4,142.55 L288.4,142.68 L289.4,142.82 L290.4,142.95 L291.4,143.09 L292.4,143.22 L293.4,143.35 L294.4,143.49 L295.4,143.63 L296.4,143.76 L297.4,143.90 L298.4,144.03 L299.4,144.17 L300.4,144.31 L301.4,144.44 L302.4,144.58 L303.4,144.72 L304.4,144.86 L305.4,145.00 L306.4,145.13 L307.4,145.27 L308.4,145.41 L309.4,145.55 L310.4,145.68 L311.4,145.82 L312.4,145.96 L313.4,146.09 L314.4,146.23 L315.4,146.36 L316.4,146.50 L317.4,146.63 L318.4,146.77 L319.4,146.90 L320.4,147.04 L321.4,147.17 L322.4,147.31 L323.4,147.44 L324.4,147.57 L325.4,147.71 L326.4,147.84 L327.4,147.98 L328.4,148.12 L329.4,148.25 L330.4,148.39 L331.4,148.53 L332.4,148.67 L333.4,148.81 L334.4,148.95 L335.4,149.09 L336.4,149.24 L337.4,149.38 L338.4,149.53 L339.4,149.68 L340.4,149.82 L341.4,149.97 L342.4,150.12 L343.4,150.26 L344.4,150.41 L345.4,150.56 L346.4,150.70 L347.4,150.84 L348.4,150.98 L349.4,151.12 L350.4,151.25 L351.4,151.38 L352.4,151.50 L353.4,151.61 L354.4,151.72 L355.4,151.83 L356.4,151.92 L357.4,152.00 L358.4,152.08 L359.4,152.14 L360.4,152.19 L361.4,152.23 L362.4,152.26 L363.4,152.27 L364.4,152.27 L365.4,152.25 L366.4,152.22 L367.4,152.17 L368.4,152.10 L369.4,152.01 L370.4,151.91 L371.4,151.79 L372.4,151.65 L373.4,151.49 L374.4,151.31 L375.4,151.12 L376.4,150.91 L377.4,150.68 L378.4,150.43 L379.4,150.16 L380.4,149.88 L381.4,149.58 L382.4,149.27 L383.4,148.94 L384.4,148.61 L385.4,148.25 L386.4,147.89 L387.4,147.52 L388.4,147.15 L389.4,146.76 L390.4,146.37 L391.4,145.98 L392.4,145.59 L393.4,145.20 L394.4,144.81 L395.4,144.42 L396.4,144.04 L397.4,143.66 L398.4,143.30 L399.4,142.95 L400.4,142.61 L401.4,142.28 L402.4,141.98 L403.4,141.68 L404.4,141.41 L405.4,141.16 L406.4,140.94 L407.4,140.73 L408.4,140.56 L409.4,140.40 L410.4,140.28 L411.4,140.18 L412.4,140.12 L413.4,140.08 L414.4,140.07 L415.4,140.10 L416.4,140.15 L417.4,140.24 L418.4,140.36 L419.4,140.51 L420.4,140.69 L421.4,140.90 L422.4,141.14 L423.4,141.41 L424.4,141.70 L425.4,142.03 L426.4,142.38 L427.4,142.76 L428.4,143.16 L429.4,143.59 L430.4,144.04 L431.4,144.51 L432.4,144.99 L433.4,145.50 L434.4,146.02 L435.4,146.56 L436.4,147.11 L437.4,147.67 L438.4,148.24 L439.4,148.81 L440.4,149.40 L441.4,149.99 L442.4,150.58 L443.4,151.18 L444.4,151.77 L445.4,152.37 L446.4,152.96 L447.4,153.55 L448.4,154.13 L449.4,154.71 L450.4,155.27 L451.4,155.84 L452.4,156.39 L453.4,156.93 L454.4,157.46 L455.4,157.98 L456.4,158.48 L457.4,158.97 L458.4,159.45 L459.4,159.92 L460.4,160.37 L461.4,160.80 L462.4,161.22 L463.4,161.63 L464.4,162.02 L465.4,162.39 L466.4,162.75 L467.4,163.09 L468.4,163.42 L469.4,163.73 L470.4,164.03 L471.4,164.32 L472.4,164.59 L473.4,164.84 L474.4,165.08 L475.4,165.31 L476.4,165.53 L477.4,165.73 L478.4,165.92 L479.4,166.10 L480.4,166.27 L481.4,166.43 L482.4,166.58 L483.4,166.72 L484.4,166.85 L485.4,166.97 L486.4,167.08 L487.4,167.18 L488.4,167.28 L489.4,167.37 L490.4,167.45 L491.4,167.52 L492.4,167.59 L493.4,167.66 L494.4,167.72 L495.4,167.77 L496.4,167.82 L497.4,167.87 L498.4,167.91 L499.4,167.95 L500.4,167.98 L501.4,168.02 L502.4,168.04 L503.4,168.07 L504.4,168.09 L505.4,168.12 L505.6,168.12" fill="none" stroke="#333" stroke-width="1.0"/>
<line x1="114.4" y1="168.3" x2="505.6" y2="168.3" stroke="#3a3a3a" stroke-width="0.95"/>
<line x1="193.8" y1="164.70000000000002" x2="193.8" y2="172.4" stroke="#1a1a1a" stroke-width="1.3"/>
<line x1="426.4" y1="164.70000000000002" x2="426.4" y2="172.4" stroke="#1a1a1a" stroke-width="1.3"/>
<rect x="210.7" y="160.65" width="167.80" height="15.45" fill="#d95f02" stroke="#333333" stroke-width="1.05"/>
<line x1="285.6" y1="160.65" x2="285.6" y2="176.1" stroke="#1c1c1c" stroke-width="1.6"/>
<circle cx="195.10" cy="184.60" r="1.95" fill="#d95f02"/>
<circle cx="194.20" cy="187.40" r="1.95" fill="#d95f02"/>
<circle cx="193.80" cy="190.80" r="1.95" fill="#d95f02"/>
<circle cx="199.40" cy="184.60" r="1.95" fill="#d95f02"/>
<circle cx="204.60" cy="185.50" r="1.95" fill="#d95f02"/>
<circle cx="202.50" cy="188.00" r="1.95" fill="#d95f02"/>
<circle cx="207.70" cy="186.80" r="1.95" fill="#d95f02"/>
<circle cx="204.60" cy="189.80" r="1.95" fill="#d95f02"/>
<circle cx="209.50" cy="189.20" r="1.95" fill="#d95f02"/>
<circle cx="211.40" cy="191.40" r="1.95" fill="#d95f02"/>
<circle cx="198.20" cy="193.20" r="1.95" fill="#d95f02"/>
<circle cx="203.40" cy="192.90" r="1.95" fill="#d95f02"/>
<circle cx="196.60" cy="196.00" r="1.95" fill="#d95f02"/>
<circle cx="200.00" cy="196.30" r="1.95" fill="#d95f02"/>
<circle cx="204.00" cy="196.60" r="1.95" fill="#d95f02"/>
<circle cx="208.30" cy="196.60" r="1.95" fill="#d95f02"/>
<circle cx="211.10" cy="196.90" r="1.95" fill="#d95f02"/>
<circle cx="209.20" cy="199.10" r="1.95" fill="#d95f02"/>
<circle cx="194.80" cy="200.30" r="1.95" fill="#d95f02"/>
<circle cx="198.20" cy="198.50" r="1.95" fill="#d95f02"/>
<circle cx="200.90" cy="200.60" r="1.95" fill="#d95f02"/>
<circle cx="205.80" cy="198.50" r="1.95" fill="#d95f02"/>
<circle cx="206.80" cy="192.60" r="1.95" fill="#d95f02"/>
<circle cx="237.10" cy="188.60" r="1.95" fill="#d95f02"/>
<circle cx="239.20" cy="186.50" r="1.95" fill="#d95f02"/>
<circle cx="242.00" cy="185.50" r="1.95" fill="#d95f02"/>
<circle cx="243.20" cy="189.50" r="1.95" fill="#d95f02"/>
<circle cx="242.60" cy="191.10" r="1.95" fill="#d95f02"/>
<circle cx="246.00" cy="186.80" r="1.95" fill="#d95f02"/>
<circle cx="247.50" cy="184.60" r="1.95" fill="#d95f02"/>
<circle cx="246.90" cy="188.90" r="1.95" fill="#d95f02"/>
<circle cx="250.30" cy="187.10" r="1.95" fill="#d95f02"/>
<circle cx="254.00" cy="185.20" r="1.95" fill="#d95f02"/>
<circle cx="254.30" cy="188.30" r="1.95" fill="#d95f02"/>
<circle cx="238.00" cy="193.50" r="1.95" fill="#d95f02"/>
<circle cx="241.40" cy="196.30" r="1.95" fill="#d95f02"/>
<circle cx="243.50" cy="194.80" r="1.95" fill="#d95f02"/>
<circle cx="247.20" cy="195.70" r="1.95" fill="#d95f02"/>
<circle cx="250.30" cy="192.60" r="1.95" fill="#d95f02"/>
<circle cx="253.10" cy="194.80" r="1.95" fill="#d95f02"/>
<circle cx="243.80" cy="200.00" r="1.95" fill="#d95f02"/>
<circle cx="254.00" cy="200.60" r="1.95" fill="#d95f02"/>
<circle cx="244.80" cy="191.70" r="1.95" fill="#d95f02"/>
<circle cx="280.40" cy="187.10" r="1.95" fill="#d95f02"/>
<circle cx="283.20" cy="185.20" r="1.95" fill="#d95f02"/>
<circle cx="286.20" cy="188.00" r="1.95" fill="#d95f02"/>
<circle cx="288.10" cy="186.80" r="1.95" fill="#d95f02"/>
<circle cx="285.30" cy="190.50" r="1.95" fill="#d95f02"/>
<circle cx="289.00" cy="189.20" r="1.95" fill="#d95f02"/>
<circle cx="291.50" cy="188.60" r="1.95" fill="#d95f02"/>
<circle cx="293.00" cy="185.20" r="1.95" fill="#d95f02"/>
<circle cx="294.50" cy="188.00" r="1.95" fill="#d95f02"/>
<circle cx="297.00" cy="187.10" r="1.95" fill="#d95f02"/>
<circle cx="294.80" cy="192.00" r="1.95" fill="#d95f02"/>
<circle cx="283.50" cy="193.20" r="1.95" fill="#d95f02"/>
<circle cx="282.20" cy="194.80" r="1.95" fill="#d95f02"/>
<circle cx="288.40" cy="195.40" r="1.95" fill="#d95f02"/>
<circle cx="280.70" cy="198.80" r="1.95" fill="#d95f02"/>
<circle cx="295.80" cy="199.10" r="1.95" fill="#d95f02"/>
<circle cx="325.20" cy="185.20" r="1.95" fill="#d95f02"/>
<circle cx="328.30" cy="186.50" r="1.95" fill="#d95f02"/>
<circle cx="327.10" cy="189.20" r="1.95" fill="#d95f02"/>
<circle cx="332.60" cy="189.50" r="1.95" fill="#d95f02"/>
<circle cx="336.30" cy="186.50" r="1.95" fill="#d95f02"/>
<circle cx="339.10" cy="185.50" r="1.95" fill="#d95f02"/>
<circle cx="335.70" cy="188.90" r="1.95" fill="#d95f02"/>
<circle cx="339.40" cy="191.10" r="1.95" fill="#d95f02"/>
<circle cx="332.00" cy="193.50" r="1.95" fill="#d95f02"/>
<circle cx="334.50" cy="193.80" r="1.95" fill="#d95f02"/>
<circle cx="340.00" cy="195.10" r="1.95" fill="#d95f02"/>
<circle cx="326.50" cy="196.30" r="1.95" fill="#d95f02"/>
<circle cx="324.00" cy="198.50" r="1.95" fill="#d95f02"/>
<circle cx="324.60" cy="200.30" r="1.95" fill="#d95f02"/>
<circle cx="335.10" cy="199.40" r="1.95" fill="#d95f02"/>
<circle cx="337.50" cy="199.70" r="1.95" fill="#d95f02"/>
<circle cx="338.80" cy="197.50" r="1.95" fill="#d95f02"/>
<circle cx="378.70" cy="190.20" r="1.95" fill="#d95f02"/>
<circle cx="378.70" cy="192.30" r="1.95" fill="#d95f02"/>
<circle cx="375.00" cy="194.20" r="1.95" fill="#d95f02"/>
<circle cx="374.70" cy="196.30" r="1.95" fill="#d95f02"/>
<circle cx="375.90" cy="197.80" r="1.95" fill="#d95f02"/>
<circle cx="378.40" cy="199.10" r="1.95" fill="#d95f02"/>
<circle cx="410.60" cy="186.20" r="1.95" fill="#d95f02"/>
<circle cx="414.30" cy="184.90" r="1.95" fill="#d95f02"/>
<circle cx="417.40" cy="185.20" r="1.95" fill="#d95f02"/>
<circle cx="420.50" cy="184.90" r="1.95" fill="#d95f02"/>
<circle cx="426.30" cy="185.80" r="1.95" fill="#d95f02"/>
<circle cx="424.20" cy="188.00" r="1.95" fill="#d95f02"/>
<circle cx="419.20" cy="188.00" r="1.95" fill="#d95f02"/>
<circle cx="410.00" cy="189.20" r="1.95" fill="#d95f02"/>
<circle cx="409.10" cy="192.00" r="1.95" fill="#d95f02"/>
<circle cx="412.50" cy="190.50" r="1.95" fill="#d95f02"/>
<circle cx="415.20" cy="189.80" r="1.95" fill="#d95f02"/>
<circle cx="414.30" cy="192.90" r="1.95" fill="#d95f02"/>
<circle cx="411.80" cy="194.20" r="1.95" fill="#d95f02"/>
<circle cx="423.20" cy="191.40" r="1.95" fill="#d95f02"/>
<circle cx="418.60" cy="193.50" r="1.95" fill="#d95f02"/>
<circle cx="420.50" cy="195.70" r="1.95" fill="#d95f02"/>
<circle cx="413.70" cy="196.30" r="1.95" fill="#d95f02"/>
<circle cx="412.80" cy="199.40" r="1.95" fill="#d95f02"/>
<circle cx="418.60" cy="199.10" r="1.95" fill="#d95f02"/>
<circle cx="422.90" cy="197.80" r="1.95" fill="#d95f02"/>
<circle cx="426.30" cy="199.70" r="1.95" fill="#d95f02"/>
<circle cx="410.60" cy="192.30" r="1.95" fill="#d95f02"/>
<path d="M114.4,249.8 L114.4,249.60 L115.4,249.58 L116.4,249.56 L117.4,249.53 L118.4,249.50 L119.4,249.47 L120.4,249.44 L121.4,249.40 L122.4,249.36 L123.4,249.32 L124.4,249.28 L125.4,249.23 L126.4,249.17 L127.4,249.12 L128.4,249.05 L129.4,248.99 L130.4,248.92 L131.4,248.84 L132.4,248.76 L133.4,248.67 L134.4,248.58 L135.4,248.48 L136.4,248.38 L137.4,248.27 L138.4,248.15 L139.4,248.02 L140.4,247.89 L141.4,247.75 L142.4,247.60 L143.4,247.45 L144.4,247.28 L145.4,247.11 L146.4,246.93 L147.4,246.74 L148.4,246.54 L149.4,246.33 L150.4,246.12 L151.4,245.89 L152.4,245.66 L153.4,245.42 L154.4,245.17 L155.4,244.91 L156.4,244.64 L157.4,244.36 L158.4,244.07 L159.4,243.78 L160.4,243.47 L161.4,243.16 L162.4,242.85 L163.4,242.52 L164.4,242.19 L165.4,241.85 L166.4,241.50 L167.4,241.15 L168.4,240.80 L169.4,240.43 L170.4,240.07 L171.4,239.70 L172.4,239.33 L173.4,238.95 L174.4,238.58 L175.4,238.20 L176.4,237.82 L177.4,237.44 L178.4,237.07 L179.4,236.69 L180.4,236.31 L181.4,235.94 L182.4,235.57 L183.4,235.21 L184.4,234.84 L185.4,234.49 L186.4,234.14 L187.4,233.79 L188.4,233.45 L189.4,233.12 L190.4,232.79 L191.4,232.47 L192.4,232.16 L193.4,231.86 L194.4,231.56 L195.4,231.28 L196.4,231.00 L197.4,230.73 L198.4,230.47 L199.4,230.22 L200.4,229.98 L201.4,229.75 L202.4,229.53 L203.4,229.31 L204.4,229.10 L205.4,228.91 L206.4,228.72 L207.4,228.53 L208.4,228.36 L209.4,228.19 L210.4,228.03 L211.4,227.87 L212.4,227.72 L213.4,227.58 L214.4,227.44 L215.4,227.31 L216.4,227.18 L217.4,227.05 L218.4,226.93 L219.4,226.81 L220.4,226.69 L221.4,226.57 L222.4,226.46 L223.4,226.34 L224.4,226.23 L225.4,226.11 L226.4,226.00 L227.4,225.89 L228.4,225.77 L229.4,225.66 L230.4,225.54 L231.4,225.42 L232.4,225.30 L233.4,225.18 L234.4,225.05 L235.4,224.93 L236.4,224.80 L237.4,224.67 L238.4,224.54 L239.4,224.40 L240.4,224.27 L241.4,224.13 L242.4,223.99 L243.4,223.85 L244.4,223.71 L245.4,223.57 L246.4,223.43 L247.4,223.28 L248.4,223.14 L249.4,223.00 L250.4,222.86 L251.4,222.72 L252.4,222.58 L253.4,222.44 L254.4,222.30 L255.4,222.17 L256.4,222.04 L257.4,221.92 L258.4,221.80 L259.4,221.68 L260.4,221.57 L261.4,221.47 L262.4,221.37 L263.4,221.27 L264.4,221.18 L265.4,221.10 L266.4,221.03 L267.4,220.96 L268.4,220.91 L269.4,220.86 L270.4,220.81 L271.4,220.78 L272.4,220.76 L273.4,220.74 L274.4,220.73 L275.4,220.73 L276.4,220.74 L277.4,220.76 L278.4,220.79 L279.4,220.83 L280.4,220.87 L281.4,220.93 L282.4,220.99 L283.4,221.06 L284.4,221.14 L285.4,221.23 L286.4,221.33 L287.4,221.43 L288.4,221.54 L289.4,221.66 L290.4,221.78 L291.4,221.91 L292.4,222.05 L293.4,222.19 L294.4,222.34 L295.4,222.50 L296.4,222.66 L297.4,222.82 L298.4,222.99 L299.4,223.16 L300.4,223.34 L301.4,223.52 L302.4,223.70 L303.4,223.89 L304.4,224.08 L305.4,224.27 L306.4,224.47 L307.4,224.67 L308.4,224.87 L309.4,225.07 L310.4,225.28 L311.4,225.48 L312.4,225.69 L313.4,225.90 L314.4,226.11 L315.4,226.33 L316.4,226.54 L317.4,226.75 L318.4,226.97 L319.4,227.19 L320.4,227.40 L321.4,227.62 L322.4,227.84 L323.4,228.05 L324.4,228.27 L325.4,228.49 L326.4,228.70 L327.4,228.92 L328.4,229.13 L329.4,229.35 L330.4,229.56 L331.4,229.76 L332.4,229.97 L333.4,230.17 L334.4,230.37 L335.4,230.56 L336.4,230.75 L337.4,230.94 L338.4,231.12 L339.4,231.29 L340.4,231.45 L341.4,231.61 L342.4,231.76 L343.4,231.90 L344.4,232.03 L345.4,232.15 L346.4,232.26 L347.4,232.35 L348.4,232.44 L349.4,232.51 L350.4,232.56 L351.4,232.60 L352.4,232.63 L353.4,232.64 L354.4,232.63 L355.4,232.60 L356.4,232.56 L357.4,232.49 L358.4,232.41 L359.4,232.31 L360.4,232.18 L361.4,232.04 L362.4,231.87 L363.4,231.68 L364.4,231.46 L365.4,231.23 L366.4,230.97 L367.4,230.69 L368.4,230.38 L369.4,230.05 L370.4,229.70 L371.4,229.33 L372.4,228.93 L373.4,228.51 L374.4,228.07 L375.4,227.61 L376.4,227.13 L377.4,226.63 L378.4,226.11 L379.4,225.58 L380.4,225.02 L381.4,224.46 L382.4,223.88 L383.4,223.28 L384.4,222.68 L385.4,222.07 L386.4,221.45 L387.4,220.82 L388.4,220.19 L389.4,219.56 L390.4,218.93 L391.4,218.30 L392.4,217.68 L393.4,217.06 L394.4,216.45 L395.4,215.85 L396.4,215.27 L397.4,214.70 L398.4,214.15 L399.4,213.62 L400.4,213.11 L401.4,212.63 L402.4,212.17 L403.4,211.74 L404.4,211.34 L405.4,210.97 L406.4,210.63 L407.4,210.33 L408.4,210.07 L409.4,209.84 L410.4,209.66 L411.4,209.51 L412.4,209.41 L413.4,209.34 L414.4,209.32 L415.4,209.35 L416.4,209.41 L417.4,209.52 L418.4,209.68 L419.4,209.87 L420.4,210.11 L421.4,210.40 L422.4,210.72 L423.4,211.09 L424.4,211.49 L425.4,211.93 L426.4,212.41 L427.4,212.93 L428.4,213.48 L429.4,214.07 L430.4,214.68 L431.4,215.33 L432.4,216.00 L433.4,216.70 L434.4,217.42 L435.4,218.16 L436.4,218.92 L437.4,219.70 L438.4,220.49 L439.4,221.30 L440.4,222.12 L441.4,222.94 L442.4,223.77 L443.4,224.61 L444.4,225.44 L445.4,226.28 L446.4,227.12 L447.4,227.95 L448.4,228.77 L449.4,229.59 L450.4,230.40 L451.4,231.20 L452.4,231.99 L453.4,232.77 L454.4,233.53 L455.4,234.27 L456.4,235.00 L457.4,235.72 L458.4,236.41 L459.4,237.08 L460.4,237.74 L461.4,238.37 L462.4,238.99 L463.4,239.58 L464.4,240.16 L465.4,240.71 L466.4,241.24 L467.4,241.75 L468.4,242.23 L469.4,242.70 L470.4,243.15 L471.4,243.57 L472.4,243.98 L473.4,244.36 L474.4,244.73 L475.4,245.08 L476.4,245.41 L477.4,245.72 L478.4,246.01 L479.4,246.29 L480.4,246.55 L481.4,246.79 L482.4,247.02 L483.4,247.24 L484.4,247.44 L485.4,247.63 L486.4,247.80 L487.4,247.96 L488.4,248.12 L489.4,248.26 L490.4,248.39 L491.4,248.51 L492.4,248.62 L493.4,248.73 L494.4,248.82 L495.4,248.91 L496.4,248.99 L497.4,249.07 L498.4,249.14 L499.4,249.20 L500.4,249.26 L501.4,249.31 L502.4,249.36 L503.4,249.40 L504.4,249.44 L505.4,249.48 L505.6,249.49 L505.6,249.8 Z" fill="#8dcebb" stroke="none"/>
<path d="M114.4,249.60 L115.4,249.58 L116.4,249.56 L117.4,249.53 L118.4,249.50 L119.4,249.47 L120.4,249.44 L121.4,249.40 L122.4,249.36 L123.4,249.32 L124.4,249.28 L125.4,249.23 L126.4,249.17 L127.4,249.12 L128.4,249.05 L129.4,248.99 L130.4,248.92 L131.4,248.84 L132.4,248.76 L133.4,248.67 L134.4,248.58 L135.4,248.48 L136.4,248.38 L137.4,248.27 L138.4,248.15 L139.4,248.02 L140.4,247.89 L141.4,247.75 L142.4,247.60 L143.4,247.45 L144.4,247.28 L145.4,247.11 L146.4,246.93 L147.4,246.74 L148.4,246.54 L149.4,246.33 L150.4,246.12 L151.4,245.89 L152.4,245.66 L153.4,245.42 L154.4,245.17 L155.4,244.91 L156.4,244.64 L157.4,244.36 L158.4,244.07 L159.4,243.78 L160.4,243.47 L161.4,243.16 L162.4,242.85 L163.4,242.52 L164.4,242.19 L165.4,241.85 L166.4,241.50 L167.4,241.15 L168.4,240.80 L169.4,240.43 L170.4,240.07 L171.4,239.70 L172.4,239.33 L173.4,238.95 L174.4,238.58 L175.4,238.20 L176.4,237.82 L177.4,237.44 L178.4,237.07 L179.4,236.69 L180.4,236.31 L181.4,235.94 L182.4,235.57 L183.4,235.21 L184.4,234.84 L185.4,234.49 L186.4,234.14 L187.4,233.79 L188.4,233.45 L189.4,233.12 L190.4,232.79 L191.4,232.47 L192.4,232.16 L193.4,231.86 L194.4,231.56 L195.4,231.28 L196.4,231.00 L197.4,230.73 L198.4,230.47 L199.4,230.22 L200.4,229.98 L201.4,229.75 L202.4,229.53 L203.4,229.31 L204.4,229.10 L205.4,228.91 L206.4,228.72 L207.4,228.53 L208.4,228.36 L209.4,228.19 L210.4,228.03 L211.4,227.87 L212.4,227.72 L213.4,227.58 L214.4,227.44 L215.4,227.31 L216.4,227.18 L217.4,227.05 L218.4,226.93 L219.4,226.81 L220.4,226.69 L221.4,226.57 L222.4,226.46 L223.4,226.34 L224.4,226.23 L225.4,226.11 L226.4,226.00 L227.4,225.89 L228.4,225.77 L229.4,225.66 L230.4,225.54 L231.4,225.42 L232.4,225.30 L233.4,225.18 L234.4,225.05 L235.4,224.93 L236.4,224.80 L237.4,224.67 L238.4,224.54 L239.4,224.40 L240.4,224.27 L241.4,224.13 L242.4,223.99 L243.4,223.85 L244.4,223.71 L245.4,223.57 L246.4,223.43 L247.4,223.28 L248.4,223.14 L249.4,223.00 L250.4,222.86 L251.4,222.72 L252.4,222.58 L253.4,222.44 L254.4,222.30 L255.4,222.17 L256.4,222.04 L257.4,221.92 L258.4,221.80 L259.4,221.68 L260.4,221.57 L261.4,221.47 L262.4,221.37 L263.4,221.27 L264.4,221.18 L265.4,221.10 L266.4,221.03 L267.4,220.96 L268.4,220.91 L269.4,220.86 L270.4,220.81 L271.4,220.78 L272.4,220.76 L273.4,220.74 L274.4,220.73 L275.4,220.73 L276.4,220.74 L277.4,220.76 L278.4,220.79 L279.4,220.83 L280.4,220.87 L281.4,220.93 L282.4,220.99 L283.4,221.06 L284.4,221.14 L285.4,221.23 L286.4,221.33 L287.4,221.43 L288.4,221.54 L289.4,221.66 L290.4,221.78 L291.4,221.91 L292.4,222.05 L293.4,222.19 L294.4,222.34 L295.4,222.50 L296.4,222.66 L297.4,222.82 L298.4,222.99 L299.4,223.16 L300.4,223.34 L301.4,223.52 L302.4,223.70 L303.4,223.89 L304.4,224.08 L305.4,224.27 L306.4,224.47 L307.4,224.67 L308.4,224.87 L309.4,225.07 L310.4,225.28 L311.4,225.48 L312.4,225.69 L313.4,225.90 L314.4,226.11 L315.4,226.33 L316.4,226.54 L317.4,226.75 L318.4,226.97 L319.4,227.19 L320.4,227.40 L321.4,227.62 L322.4,227.84 L323.4,228.05 L324.4,228.27 L325.4,228.49 L326.4,228.70 L327.4,228.92 L328.4,229.13 L329.4,229.35 L330.4,229.56 L331.4,229.76 L332.4,229.97 L333.4,230.17 L334.4,230.37 L335.4,230.56 L336.4,230.75 L337.4,230.94 L338.4,231.12 L339.4,231.29 L340.4,231.45 L341.4,231.61 L342.4,231.76 L343.4,231.90 L344.4,232.03 L345.4,232.15 L346.4,232.26 L347.4,232.35 L348.4,232.44 L349.4,232.51 L350.4,232.56 L351.4,232.60 L352.4,232.63 L353.4,232.64 L354.4,232.63 L355.4,232.60 L356.4,232.56 L357.4,232.49 L358.4,232.41 L359.4,232.31 L360.4,232.18 L361.4,232.04 L362.4,231.87 L363.4,231.68 L364.4,231.46 L365.4,231.23 L366.4,230.97 L367.4,230.69 L368.4,230.38 L369.4,230.05 L370.4,229.70 L371.4,229.33 L372.4,228.93 L373.4,228.51 L374.4,228.07 L375.4,227.61 L376.4,227.13 L377.4,226.63 L378.4,226.11 L379.4,225.58 L380.4,225.02 L381.4,224.46 L382.4,223.88 L383.4,223.28 L384.4,222.68 L385.4,222.07 L386.4,221.45 L387.4,220.82 L388.4,220.19 L389.4,219.56 L390.4,218.93 L391.4,218.30 L392.4,217.68 L393.4,217.06 L394.4,216.45 L395.4,215.85 L396.4,215.27 L397.4,214.70 L398.4,214.15 L399.4,213.62 L400.4,213.11 L401.4,212.63 L402.4,212.17 L403.4,211.74 L404.4,211.34 L405.4,210.97 L406.4,210.63 L407.4,210.33 L408.4,210.07 L409.4,209.84 L410.4,209.66 L411.4,209.51 L412.4,209.41 L413.4,209.34 L414.4,209.32 L415.4,209.35 L416.4,209.41 L417.4,209.52 L418.4,209.68 L419.4,209.87 L420.4,210.11 L421.4,210.40 L422.4,210.72 L423.4,211.09 L424.4,211.49 L425.4,211.93 L426.4,212.41 L427.4,212.93 L428.4,213.48 L429.4,214.07 L430.4,214.68 L431.4,215.33 L432.4,216.00 L433.4,216.70 L434.4,217.42 L435.4,218.16 L436.4,218.92 L437.4,219.70 L438.4,220.49 L439.4,221.30 L440.4,222.12 L441.4,222.94 L442.4,223.77 L443.4,224.61 L444.4,225.44 L445.4,226.28 L446.4,227.12 L447.4,227.95 L448.4,228.77 L449.4,229.59 L450.4,230.40 L451.4,231.20 L452.4,231.99 L453.4,232.77 L454.4,233.53 L455.4,234.27 L456.4,235.00 L457.4,235.72 L458.4,236.41 L459.4,237.08 L460.4,237.74 L461.4,238.37 L462.4,238.99 L463.4,239.58 L464.4,240.16 L465.4,240.71 L466.4,241.24 L467.4,241.75 L468.4,242.23 L469.4,242.70 L470.4,243.15 L471.4,243.57 L472.4,243.98 L473.4,244.36 L474.4,244.73 L475.4,245.08 L476.4,245.41 L477.4,245.72 L478.4,246.01 L479.4,246.29 L480.4,246.55 L481.4,246.79 L482.4,247.02 L483.4,247.24 L484.4,247.44 L485.4,247.63 L486.4,247.80 L487.4,247.96 L488.4,248.12 L489.4,248.26 L490.4,248.39 L491.4,248.51 L492.4,248.62 L493.4,248.73 L494.4,248.82 L495.4,248.91 L496.4,248.99 L497.4,249.07 L498.4,249.14 L499.4,249.20 L500.4,249.26 L501.4,249.31 L502.4,249.36 L503.4,249.40 L504.4,249.44 L505.4,249.48 L505.6,249.49" fill="none" stroke="#333" stroke-width="1.0"/>
<line x1="114.4" y1="249.8" x2="505.6" y2="249.8" stroke="#3a3a3a" stroke-width="0.95"/>
<line x1="193.8" y1="246.20000000000002" x2="193.8" y2="253.9" stroke="#1a1a1a" stroke-width="1.3"/>
<line x1="426.4" y1="246.20000000000002" x2="426.4" y2="253.9" stroke="#1a1a1a" stroke-width="1.3"/>
<rect x="251.4" y="242.05" width="163.40" height="15.75" fill="#1b9e77" stroke="#333333" stroke-width="1.05"/>
<line x1="326.8" y1="242.05" x2="326.8" y2="257.8" stroke="#1c1c1c" stroke-width="1.6"/>
<circle cx="194.80" cy="266.90" r="1.95" fill="#1b9e77"/>
<circle cx="194.80" cy="270.00" r="1.95" fill="#1b9e77"/>
<circle cx="193.50" cy="272.80" r="1.95" fill="#1b9e77"/>
<circle cx="196.90" cy="271.50" r="1.95" fill="#1b9e77"/>
<circle cx="199.70" cy="272.80" r="1.95" fill="#1b9e77"/>
<circle cx="196.00" cy="274.30" r="1.95" fill="#1b9e77"/>
<circle cx="193.50" cy="277.10" r="1.95" fill="#1b9e77"/>
<circle cx="198.80" cy="275.20" r="1.95" fill="#1b9e77"/>
<circle cx="201.20" cy="275.80" r="1.95" fill="#1b9e77"/>
<circle cx="202.50" cy="273.70" r="1.95" fill="#1b9e77"/>
<circle cx="204.60" cy="270.00" r="1.95" fill="#1b9e77"/>
<circle cx="205.80" cy="268.80" r="1.95" fill="#1b9e77"/>
<circle cx="204.30" cy="271.80" r="1.95" fill="#1b9e77"/>
<circle cx="208.00" cy="273.70" r="1.95" fill="#1b9e77"/>
<circle cx="208.30" cy="278.00" r="1.95" fill="#1b9e77"/>
<circle cx="205.20" cy="278.90" r="1.95" fill="#1b9e77"/>
<circle cx="200.90" cy="278.60" r="1.95" fill="#1b9e77"/>
<circle cx="195.70" cy="281.10" r="1.95" fill="#1b9e77"/>
<circle cx="197.20" cy="276.80" r="1.95" fill="#1b9e77"/>
<circle cx="236.80" cy="266.30" r="1.95" fill="#1b9e77"/>
<circle cx="241.40" cy="267.20" r="1.95" fill="#1b9e77"/>
<circle cx="243.20" cy="266.00" r="1.95" fill="#1b9e77"/>
<circle cx="245.70" cy="266.30" r="1.95" fill="#1b9e77"/>
<circle cx="246.00" cy="269.10" r="1.95" fill="#1b9e77"/>
<circle cx="245.10" cy="270.90" r="1.95" fill="#1b9e77"/>
<circle cx="247.50" cy="271.80" r="1.95" fill="#1b9e77"/>
<circle cx="244.50" cy="273.70" r="1.95" fill="#1b9e77"/>
<circle cx="242.90" cy="276.20" r="1.95" fill="#1b9e77"/>
<circle cx="244.80" cy="279.20" r="1.95" fill="#1b9e77"/>
<circle cx="241.10" cy="281.70" r="1.95" fill="#1b9e77"/>
<circle cx="238.30" cy="276.80" r="1.95" fill="#1b9e77"/>
<circle cx="249.70" cy="266.00" r="1.95" fill="#1b9e77"/>
<circle cx="254.00" cy="266.30" r="1.95" fill="#1b9e77"/>
<circle cx="250.90" cy="269.40" r="1.95" fill="#1b9e77"/>
<circle cx="254.30" cy="271.20" r="1.95" fill="#1b9e77"/>
<circle cx="251.80" cy="273.40" r="1.95" fill="#1b9e77"/>
<circle cx="250.30" cy="275.50" r="1.95" fill="#1b9e77"/>
<circle cx="250.90" cy="278.30" r="1.95" fill="#1b9e77"/>
<circle cx="253.70" cy="279.20" r="1.95" fill="#1b9e77"/>
<circle cx="250.30" cy="281.10" r="1.95" fill="#1b9e77"/>
<circle cx="285.30" cy="266.30" r="1.95" fill="#1b9e77"/>
<circle cx="287.80" cy="267.20" r="1.95" fill="#1b9e77"/>
<circle cx="283.50" cy="268.50" r="1.95" fill="#1b9e77"/>
<circle cx="290.80" cy="267.20" r="1.95" fill="#1b9e77"/>
<circle cx="294.20" cy="267.80" r="1.95" fill="#1b9e77"/>
<circle cx="282.20" cy="270.90" r="1.95" fill="#1b9e77"/>
<circle cx="289.90" cy="270.90" r="1.95" fill="#1b9e77"/>
<circle cx="293.30" cy="270.30" r="1.95" fill="#1b9e77"/>
<circle cx="296.10" cy="271.20" r="1.95" fill="#1b9e77"/>
<circle cx="281.00" cy="275.20" r="1.95" fill="#1b9e77"/>
<circle cx="283.80" cy="274.00" r="1.95" fill="#1b9e77"/>
<circle cx="286.50" cy="274.30" r="1.95" fill="#1b9e77"/>
<circle cx="289.00" cy="275.80" r="1.95" fill="#1b9e77"/>
<circle cx="291.50" cy="274.30" r="1.95" fill="#1b9e77"/>
<circle cx="294.20" cy="274.60" r="1.95" fill="#1b9e77"/>
<circle cx="297.30" cy="276.50" r="1.95" fill="#1b9e77"/>
<circle cx="295.20" cy="278.60" r="1.95" fill="#1b9e77"/>
<circle cx="296.40" cy="280.80" r="1.95" fill="#1b9e77"/>
<circle cx="280.40" cy="280.50" r="1.95" fill="#1b9e77"/>
<circle cx="282.80" cy="281.10" r="1.95" fill="#1b9e77"/>
<circle cx="285.00" cy="282.00" r="1.95" fill="#1b9e77"/>
<circle cx="290.50" cy="281.40" r="1.95" fill="#1b9e77"/>
<circle cx="326.80" cy="266.90" r="1.95" fill="#1b9e77"/>
<circle cx="330.50" cy="266.30" r="1.95" fill="#1b9e77"/>
<circle cx="334.20" cy="266.60" r="1.95" fill="#1b9e77"/>
<circle cx="326.50" cy="270.00" r="1.95" fill="#1b9e77"/>
<circle cx="325.80" cy="272.80" r="1.95" fill="#1b9e77"/>
<circle cx="328.00" cy="274.00" r="1.95" fill="#1b9e77"/>
<circle cx="328.90" cy="276.20" r="1.95" fill="#1b9e77"/>
<circle cx="332.90" cy="271.20" r="1.95" fill="#1b9e77"/>
<circle cx="335.70" cy="270.90" r="1.95" fill="#1b9e77"/>
<circle cx="337.80" cy="271.80" r="1.95" fill="#1b9e77"/>
<circle cx="335.40" cy="274.00" r="1.95" fill="#1b9e77"/>
<circle cx="340.00" cy="273.70" r="1.95" fill="#1b9e77"/>
<circle cx="324.00" cy="279.50" r="1.95" fill="#1b9e77"/>
<circle cx="325.80" cy="282.00" r="1.95" fill="#1b9e77"/>
<circle cx="332.30" cy="279.50" r="1.95" fill="#1b9e77"/>
<circle cx="334.50" cy="279.50" r="1.95" fill="#1b9e77"/>
<circle cx="381.50" cy="267.20" r="1.95" fill="#1b9e77"/>
<circle cx="369.50" cy="269.70" r="1.95" fill="#1b9e77"/>
<circle cx="372.20" cy="272.20" r="1.95" fill="#1b9e77"/>
<circle cx="377.50" cy="273.40" r="1.95" fill="#1b9e77"/>
<circle cx="382.70" cy="274.60" r="1.95" fill="#1b9e77"/>
<circle cx="366.40" cy="278.60" r="1.95" fill="#1b9e77"/>
<circle cx="373.80" cy="277.70" r="1.95" fill="#1b9e77"/>
<circle cx="376.20" cy="279.50" r="1.95" fill="#1b9e77"/>
<circle cx="371.60" cy="281.70" r="1.95" fill="#1b9e77"/>
<circle cx="374.40" cy="280.50" r="1.95" fill="#1b9e77"/>
<circle cx="412.72" cy="268.40" r="1.95" fill="#1b9e77"/>
<circle cx="414.43" cy="268.90" r="1.95" fill="#1b9e77"/>
<circle cx="416.07" cy="268.73" r="1.95" fill="#1b9e77"/>
<circle cx="417.99" cy="269.09" r="1.95" fill="#1b9e77"/>
<circle cx="419.90" cy="269.00" r="1.95" fill="#1b9e77"/>
<circle cx="421.67" cy="269.05" r="1.95" fill="#1b9e77"/>
<circle cx="411.10" cy="270.20" r="1.95" fill="#1b9e77"/>
<circle cx="413.43" cy="270.06" r="1.95" fill="#1b9e77"/>
<circle cx="415.52" cy="270.15" r="1.95" fill="#1b9e77"/>
<circle cx="417.42" cy="270.19" r="1.95" fill="#1b9e77"/>
<circle cx="419.36" cy="270.54" r="1.95" fill="#1b9e77"/>
<circle cx="422.89" cy="270.44" r="1.95" fill="#1b9e77"/>
<circle cx="424.48" cy="270.10" r="1.95" fill="#1b9e77"/>
<circle cx="416.24" cy="271.81" r="1.95" fill="#1b9e77"/>
<circle cx="417.75" cy="272.35" r="1.95" fill="#1b9e77"/>
<circle cx="423.44" cy="272.35" r="1.95" fill="#1b9e77"/>
<circle cx="425.53" cy="272.21" r="1.95" fill="#1b9e77"/>
<circle cx="416.62" cy="273.45" r="1.95" fill="#1b9e77"/>
<circle cx="425.09" cy="273.35" r="1.95" fill="#1b9e77"/>
<circle cx="410.05" cy="275.17" r="1.95" fill="#1b9e77"/>
<circle cx="418.33" cy="275.50" r="1.95" fill="#1b9e77"/>
<circle cx="421.94" cy="275.15" r="1.95" fill="#1b9e77"/>
<circle cx="423.34" cy="275.27" r="1.95" fill="#1b9e77"/>
<circle cx="411.36" cy="276.65" r="1.95" fill="#1b9e77"/>
<circle cx="413.66" cy="276.75" r="1.95" fill="#1b9e77"/>
<circle cx="420.43" cy="276.67" r="1.95" fill="#1b9e77"/>
<circle cx="422.39" cy="277.09" r="1.95" fill="#1b9e77"/>
<circle cx="424.66" cy="277.41" r="1.95" fill="#1b9e77"/>
<circle cx="412.41" cy="278.89" r="1.95" fill="#1b9e77"/>
<circle cx="422.00" cy="278.39" r="1.95" fill="#1b9e77"/>
<circle cx="412.99" cy="280.64" r="1.95" fill="#1b9e77"/>
<circle cx="415.57" cy="280.48" r="1.95" fill="#1b9e77"/>
<circle cx="416.99" cy="280.29" r="1.95" fill="#1b9e77"/>
<circle cx="420.78" cy="280.30" r="1.95" fill="#1b9e77"/>
<circle cx="413.84" cy="281.76" r="1.95" fill="#1b9e77"/>
<circle cx="411.08" cy="268.09" r="1.95" fill="#1b9e77"/>
<circle cx="410.66" cy="270.85" r="1.95" fill="#1b9e77"/>
<circle cx="410.46" cy="273.71" r="1.95" fill="#1b9e77"/>
<circle cx="410.94" cy="276.58" r="1.95" fill="#1b9e77"/>
<circle cx="411.33" cy="279.06" r="1.95" fill="#1b9e77"/>
<circle cx="413.66" cy="281.72" r="1.95" fill="#1b9e77"/>
<circle cx="417.21" cy="281.70" r="1.95" fill="#1b9e77"/>
<circle cx="420.30" cy="280.60" r="1.95" fill="#1b9e77"/>
<circle cx="425.11" cy="276.68" r="1.95" fill="#1b9e77"/>
<circle cx="424.97" cy="273.56" r="1.95" fill="#1b9e77"/>
<circle cx="425.05" cy="270.99" r="1.95" fill="#1b9e77"/>
<circle cx="422.80" cy="270.64" r="1.95" fill="#1b9e77"/>
<circle cx="420.73" cy="268.48" r="1.95" fill="#1b9e77"/>
<circle cx="417.13" cy="267.77" r="1.95" fill="#1b9e77"/>
<circle cx="414.37" cy="267.88" r="1.95" fill="#1b9e77"/>
<circle cx="426.00" cy="266.80" r="1.95" fill="#1b9e77"/>
<path d="M116.3,422.8 L116.3,422.57 L117.3,422.54 L118.3,422.51 L119.3,422.48 L120.3,422.45 L121.3,422.41 L122.3,422.38 L123.3,422.33 L124.3,422.29 L125.3,422.24 L126.3,422.18 L127.3,422.13 L128.3,422.06 L129.3,422.00 L130.3,421.92 L131.3,421.85 L132.3,421.76 L133.3,421.67 L134.3,421.58 L135.3,421.47 L136.3,421.37 L137.3,421.25 L138.3,421.12 L139.3,420.99 L140.3,420.85 L141.3,420.70 L142.3,420.55 L143.3,420.38 L144.3,420.21 L145.3,420.02 L146.3,419.83 L147.3,419.62 L148.3,419.41 L149.3,419.18 L150.3,418.95 L151.3,418.70 L152.3,418.44 L153.3,418.17 L154.3,417.89 L155.3,417.60 L156.3,417.30 L157.3,416.99 L158.3,416.66 L159.3,416.33 L160.3,415.98 L161.3,415.62 L162.3,415.25 L163.3,414.88 L164.3,414.49 L165.3,414.09 L166.3,413.68 L167.3,413.26 L168.3,412.84 L169.3,412.40 L170.3,411.96 L171.3,411.51 L172.3,411.05 L173.3,410.59 L174.3,410.12 L175.3,409.65 L176.3,409.17 L177.3,408.68 L178.3,408.20 L179.3,407.71 L180.3,407.22 L181.3,406.72 L182.3,406.23 L183.3,405.74 L184.3,405.25 L185.3,404.75 L186.3,404.27 L187.3,403.78 L188.3,403.30 L189.3,402.82 L190.3,402.35 L191.3,401.89 L192.3,401.43 L193.3,400.97 L194.3,400.53 L195.3,400.09 L196.3,399.67 L197.3,399.25 L198.3,398.84 L199.3,398.44 L200.3,398.06 L201.3,397.68 L202.3,397.32 L203.3,396.97 L204.3,396.63 L205.3,396.30 L206.3,395.99 L207.3,395.69 L208.3,395.40 L209.3,395.13 L210.3,394.87 L211.3,394.63 L212.3,394.40 L213.3,394.18 L214.3,393.98 L215.3,393.79 L216.3,393.62 L217.3,393.46 L218.3,393.31 L219.3,393.18 L220.3,393.06 L221.3,392.95 L222.3,392.86 L223.3,392.78 L224.3,392.71 L225.3,392.65 L226.3,392.61 L227.3,392.57 L228.3,392.55 L229.3,392.53 L230.3,392.53 L231.3,392.53 L232.3,392.55 L233.3,392.57 L234.3,392.60 L235.3,392.63 L236.3,392.68 L237.3,392.72 L238.3,392.78 L239.3,392.83 L240.3,392.89 L241.3,392.96 L242.3,393.03 L243.3,393.10 L244.3,393.17 L245.3,393.24 L246.3,393.31 L247.3,393.38 L248.3,393.45 L249.3,393.52 L250.3,393.59 L251.3,393.66 L252.3,393.73 L253.3,393.79 L254.3,393.85 L255.3,393.91 L256.3,393.97 L257.3,394.02 L258.3,394.07 L259.3,394.11 L260.3,394.16 L261.3,394.20 L262.3,394.24 L263.3,394.27 L264.3,394.31 L265.3,394.34 L266.3,394.37 L267.3,394.39 L268.3,394.42 L269.3,394.45 L270.3,394.47 L271.3,394.50 L272.3,394.52 L273.3,394.55 L274.3,394.57 L275.3,394.60 L276.3,394.63 L277.3,394.66 L278.3,394.70 L279.3,394.74 L280.3,394.78 L281.3,394.82 L282.3,394.87 L283.3,394.92 L284.3,394.98 L285.3,395.04 L286.3,395.10 L287.3,395.17 L288.3,395.25 L289.3,395.32 L290.3,395.41 L291.3,395.49 L292.3,395.58 L293.3,395.68 L294.3,395.78 L295.3,395.88 L296.3,395.99 L297.3,396.10 L298.3,396.21 L299.3,396.33 L300.3,396.44 L301.3,396.57 L302.3,396.69 L303.3,396.81 L304.3,396.94 L305.3,397.06 L306.3,397.19 L307.3,397.32 L308.3,397.45 L309.3,397.58 L310.3,397.71 L311.3,397.83 L312.3,397.96 L313.3,398.09 L314.3,398.22 L315.3,398.35 L316.3,398.48 L317.3,398.61 L318.3,398.74 L319.3,398.87 L320.3,399.00 L321.3,399.13 L322.3,399.26 L323.3,399.39 L324.3,399.52 L325.3,399.65 L326.3,399.79 L327.3,399.92 L328.3,400.06 L329.3,400.20 L330.3,400.34 L331.3,400.48 L332.3,400.63 L333.3,400.77 L334.3,400.92 L335.3,401.07 L336.3,401.22 L337.3,401.37 L338.3,401.52 L339.3,401.67 L340.3,401.82 L341.3,401.97 L342.3,402.12 L343.3,402.27 L344.3,402.42 L345.3,402.56 L346.3,402.70 L347.3,402.83 L348.3,402.96 L349.3,403.08 L350.3,403.19 L351.3,403.30 L352.3,403.39 L353.3,403.47 L354.3,403.54 L355.3,403.60 L356.3,403.64 L357.3,403.67 L358.3,403.68 L359.3,403.67 L360.3,403.64 L361.3,403.59 L362.3,403.52 L363.3,403.43 L364.3,403.32 L365.3,403.18 L366.3,403.02 L367.3,402.83 L368.3,402.62 L369.3,402.38 L370.3,402.11 L371.3,401.82 L372.3,401.50 L373.3,401.15 L374.3,400.78 L375.3,400.39 L376.3,399.96 L377.3,399.52 L378.3,399.05 L379.3,398.56 L380.3,398.04 L381.3,397.51 L382.3,396.96 L383.3,396.39 L384.3,395.81 L385.3,395.21 L386.3,394.60 L387.3,393.98 L388.3,393.35 L389.3,392.72 L390.3,392.09 L391.3,391.46 L392.3,390.82 L393.3,390.20 L394.3,389.58 L395.3,388.97 L396.3,388.37 L397.3,387.79 L398.3,387.23 L399.3,386.68 L400.3,386.16 L401.3,385.67 L402.3,385.20 L403.3,384.76 L404.3,384.35 L405.3,383.98 L406.3,383.64 L407.3,383.34 L408.3,383.08 L409.3,382.86 L410.3,382.68 L411.3,382.55 L412.3,382.46 L413.3,382.41 L414.3,382.41 L415.3,382.45 L416.3,382.54 L417.3,382.68 L418.3,382.86 L419.3,383.09 L420.3,383.36 L421.3,383.68 L422.3,384.04 L423.3,384.44 L424.3,384.88 L425.3,385.37 L426.3,385.89 L427.3,386.44 L428.3,387.04 L429.3,387.66 L430.3,388.32 L431.3,389.00 L432.3,389.71 L433.3,390.45 L434.3,391.20 L435.3,391.98 L436.3,392.77 L437.3,393.58 L438.3,394.41 L439.3,395.24 L440.3,396.08 L441.3,396.93 L442.3,397.78 L443.3,398.63 L444.3,399.48 L445.3,400.33 L446.3,401.18 L447.3,402.02 L448.3,402.85 L449.3,403.67 L450.3,404.48 L451.3,405.28 L452.3,406.06 L453.3,406.83 L454.3,407.58 L455.3,408.31 L456.3,409.03 L457.3,409.72 L458.3,410.40 L459.3,411.05 L460.3,411.69 L461.3,412.30 L462.3,412.89 L463.3,413.46 L464.3,414.01 L465.3,414.54 L466.3,415.04 L467.3,415.52 L468.3,415.98 L469.3,416.42 L470.3,416.84 L471.3,417.24 L472.3,417.62 L473.3,417.98 L474.3,418.31 L475.3,418.63 L476.3,418.94 L477.3,419.22 L478.3,419.49 L479.3,419.74 L480.3,419.98 L481.3,420.20 L482.3,420.40 L483.3,420.60 L484.3,420.78 L485.3,420.94 L486.3,421.10 L487.3,421.24 L488.3,421.38 L489.3,421.50 L490.3,421.62 L491.3,421.72 L492.3,421.82 L493.3,421.91 L494.3,421.99 L495.3,422.07 L496.3,422.14 L497.3,422.20 L498.3,422.26 L499.3,422.31 L500.3,422.36 L501.3,422.41 L502.3,422.45 L503.3,422.48 L504.3,422.52 L504.7,422.53 L504.7,422.8 Z" fill="#bab8d9" stroke="none"/>
<path d="M116.3,422.57 L117.3,422.54 L118.3,422.51 L119.3,422.48 L120.3,422.45 L121.3,422.41 L122.3,422.38 L123.3,422.33 L124.3,422.29 L125.3,422.24 L126.3,422.18 L127.3,422.13 L128.3,422.06 L129.3,422.00 L130.3,421.92 L131.3,421.85 L132.3,421.76 L133.3,421.67 L134.3,421.58 L135.3,421.47 L136.3,421.37 L137.3,421.25 L138.3,421.12 L139.3,420.99 L140.3,420.85 L141.3,420.70 L142.3,420.55 L143.3,420.38 L144.3,420.21 L145.3,420.02 L146.3,419.83 L147.3,419.62 L148.3,419.41 L149.3,419.18 L150.3,418.95 L151.3,418.70 L152.3,418.44 L153.3,418.17 L154.3,417.89 L155.3,417.60 L156.3,417.30 L157.3,416.99 L158.3,416.66 L159.3,416.33 L160.3,415.98 L161.3,415.62 L162.3,415.25 L163.3,414.88 L164.3,414.49 L165.3,414.09 L166.3,413.68 L167.3,413.26 L168.3,412.84 L169.3,412.40 L170.3,411.96 L171.3,411.51 L172.3,411.05 L173.3,410.59 L174.3,410.12 L175.3,409.65 L176.3,409.17 L177.3,408.68 L178.3,408.20 L179.3,407.71 L180.3,407.22 L181.3,406.72 L182.3,406.23 L183.3,405.74 L184.3,405.25 L185.3,404.75 L186.3,404.27 L187.3,403.78 L188.3,403.30 L189.3,402.82 L190.3,402.35 L191.3,401.89 L192.3,401.43 L193.3,400.97 L194.3,400.53 L195.3,400.09 L196.3,399.67 L197.3,399.25 L198.3,398.84 L199.3,398.44 L200.3,398.06 L201.3,397.68 L202.3,397.32 L203.3,396.97 L204.3,396.63 L205.3,396.30 L206.3,395.99 L207.3,395.69 L208.3,395.40 L209.3,395.13 L210.3,394.87 L211.3,394.63 L212.3,394.40 L213.3,394.18 L214.3,393.98 L215.3,393.79 L216.3,393.62 L217.3,393.46 L218.3,393.31 L219.3,393.18 L220.3,393.06 L221.3,392.95 L222.3,392.86 L223.3,392.78 L224.3,392.71 L225.3,392.65 L226.3,392.61 L227.3,392.57 L228.3,392.55 L229.3,392.53 L230.3,392.53 L231.3,392.53 L232.3,392.55 L233.3,392.57 L234.3,392.60 L235.3,392.63 L236.3,392.68 L237.3,392.72 L238.3,392.78 L239.3,392.83 L240.3,392.89 L241.3,392.96 L242.3,393.03 L243.3,393.10 L244.3,393.17 L245.3,393.24 L246.3,393.31 L247.3,393.38 L248.3,393.45 L249.3,393.52 L250.3,393.59 L251.3,393.66 L252.3,393.73 L253.3,393.79 L254.3,393.85 L255.3,393.91 L256.3,393.97 L257.3,394.02 L258.3,394.07 L259.3,394.11 L260.3,394.16 L261.3,394.20 L262.3,394.24 L263.3,394.27 L264.3,394.31 L265.3,394.34 L266.3,394.37 L267.3,394.39 L268.3,394.42 L269.3,394.45 L270.3,394.47 L271.3,394.50 L272.3,394.52 L273.3,394.55 L274.3,394.57 L275.3,394.60 L276.3,394.63 L277.3,394.66 L278.3,394.70 L279.3,394.74 L280.3,394.78 L281.3,394.82 L282.3,394.87 L283.3,394.92 L284.3,394.98 L285.3,395.04 L286.3,395.10 L287.3,395.17 L288.3,395.25 L289.3,395.32 L290.3,395.41 L291.3,395.49 L292.3,395.58 L293.3,395.68 L294.3,395.78 L295.3,395.88 L296.3,395.99 L297.3,396.10 L298.3,396.21 L299.3,396.33 L300.3,396.44 L301.3,396.57 L302.3,396.69 L303.3,396.81 L304.3,396.94 L305.3,397.06 L306.3,397.19 L307.3,397.32 L308.3,397.45 L309.3,397.58 L310.3,397.71 L311.3,397.83 L312.3,397.96 L313.3,398.09 L314.3,398.22 L315.3,398.35 L316.3,398.48 L317.3,398.61 L318.3,398.74 L319.3,398.87 L320.3,399.00 L321.3,399.13 L322.3,399.26 L323.3,399.39 L324.3,399.52 L325.3,399.65 L326.3,399.79 L327.3,399.92 L328.3,400.06 L329.3,400.20 L330.3,400.34 L331.3,400.48 L332.3,400.63 L333.3,400.77 L334.3,400.92 L335.3,401.07 L336.3,401.22 L337.3,401.37 L338.3,401.52 L339.3,401.67 L340.3,401.82 L341.3,401.97 L342.3,402.12 L343.3,402.27 L344.3,402.42 L345.3,402.56 L346.3,402.70 L347.3,402.83 L348.3,402.96 L349.3,403.08 L350.3,403.19 L351.3,403.30 L352.3,403.39 L353.3,403.47 L354.3,403.54 L355.3,403.60 L356.3,403.64 L357.3,403.67 L358.3,403.68 L359.3,403.67 L360.3,403.64 L361.3,403.59 L362.3,403.52 L363.3,403.43 L364.3,403.32 L365.3,403.18 L366.3,403.02 L367.3,402.83 L368.3,402.62 L369.3,402.38 L370.3,402.11 L371.3,401.82 L372.3,401.50 L373.3,401.15 L374.3,400.78 L375.3,400.39 L376.3,399.96 L377.3,399.52 L378.3,399.05 L379.3,398.56 L380.3,398.04 L381.3,397.51 L382.3,396.96 L383.3,396.39 L384.3,395.81 L385.3,395.21 L386.3,394.60 L387.3,393.98 L388.3,393.35 L389.3,392.72 L390.3,392.09 L391.3,391.46 L392.3,390.82 L393.3,390.20 L394.3,389.58 L395.3,388.97 L396.3,388.37 L397.3,387.79 L398.3,387.23 L399.3,386.68 L400.3,386.16 L401.3,385.67 L402.3,385.20 L403.3,384.76 L404.3,384.35 L405.3,383.98 L406.3,383.64 L407.3,383.34 L408.3,383.08 L409.3,382.86 L410.3,382.68 L411.3,382.55 L412.3,382.46 L413.3,382.41 L414.3,382.41 L415.3,382.45 L416.3,382.54 L417.3,382.68 L418.3,382.86 L419.3,383.09 L420.3,383.36 L421.3,383.68 L422.3,384.04 L423.3,384.44 L424.3,384.88 L425.3,385.37 L426.3,385.89 L427.3,386.44 L428.3,387.04 L429.3,387.66 L430.3,388.32 L431.3,389.00 L432.3,389.71 L433.3,390.45 L434.3,391.20 L435.3,391.98 L436.3,392.77 L437.3,393.58 L438.3,394.41 L439.3,395.24 L440.3,396.08 L441.3,396.93 L442.3,397.78 L443.3,398.63 L444.3,399.48 L445.3,400.33 L446.3,401.18 L447.3,402.02 L448.3,402.85 L449.3,403.67 L450.3,404.48 L451.3,405.28 L452.3,406.06 L453.3,406.83 L454.3,407.58 L455.3,408.31 L456.3,409.03 L457.3,409.72 L458.3,410.40 L459.3,411.05 L460.3,411.69 L461.3,412.30 L462.3,412.89 L463.3,413.46 L464.3,414.01 L465.3,414.54 L466.3,415.04 L467.3,415.52 L468.3,415.98 L469.3,416.42 L470.3,416.84 L471.3,417.24 L472.3,417.62 L473.3,417.98 L474.3,418.31 L475.3,418.63 L476.3,418.94 L477.3,419.22 L478.3,419.49 L479.3,419.74 L480.3,419.98 L481.3,420.20 L482.3,420.40 L483.3,420.60 L484.3,420.78 L485.3,420.94 L486.3,421.10 L487.3,421.24 L488.3,421.38 L489.3,421.50 L490.3,421.62 L491.3,421.72 L492.3,421.82 L493.3,421.91 L494.3,421.99 L495.3,422.07 L496.3,422.14 L497.3,422.20 L498.3,422.26 L499.3,422.31 L500.3,422.36 L501.3,422.41 L502.3,422.45 L503.3,422.48 L504.3,422.52 L504.7,422.53" fill="none" stroke="#333" stroke-width="1.0"/>
<line x1="116.3" y1="422.8" x2="504.7" y2="422.8" stroke="#3a3a3a" stroke-width="0.95"/>
<line x1="195.5" y1="419.2" x2="195.5" y2="426.90000000000003" stroke="#1a1a1a" stroke-width="1.3"/>
<line x1="425.5" y1="419.2" x2="425.5" y2="426.90000000000003" stroke="#1a1a1a" stroke-width="1.3"/>
<rect x="245.3" y="414.95" width="167.30" height="16.15" fill="#7570b3" stroke="#333333" stroke-width="1.05"/>
<line x1="326.2" y1="414.95" x2="326.2" y2="431.1" stroke="#1c1c1c" stroke-width="1.6"/>
<circle cx="210.20" cy="439.00" r="1.95" fill="#7570b3"/>
<circle cx="202.80" cy="439.60" r="1.95" fill="#7570b3"/>
<circle cx="200.00" cy="441.50" r="1.95" fill="#7570b3"/>
<circle cx="205.50" cy="441.20" r="1.95" fill="#7570b3"/>
<circle cx="195.70" cy="443.00" r="1.95" fill="#7570b3"/>
<circle cx="195.10" cy="445.20" r="1.95" fill="#7570b3"/>
<circle cx="199.70" cy="444.20" r="1.95" fill="#7570b3"/>
<circle cx="202.50" cy="445.20" r="1.95" fill="#7570b3"/>
<circle cx="197.20" cy="447.60" r="1.95" fill="#7570b3"/>
<circle cx="200.30" cy="447.90" r="1.95" fill="#7570b3"/>
<circle cx="203.40" cy="447.00" r="1.95" fill="#7570b3"/>
<circle cx="206.50" cy="446.40" r="1.95" fill="#7570b3"/>
<circle cx="209.50" cy="446.70" r="1.95" fill="#7570b3"/>
<circle cx="195.40" cy="450.40" r="1.95" fill="#7570b3"/>
<circle cx="198.50" cy="449.80" r="1.95" fill="#7570b3"/>
<circle cx="202.20" cy="449.80" r="1.95" fill="#7570b3"/>
<circle cx="207.10" cy="449.50" r="1.95" fill="#7570b3"/>
<circle cx="209.50" cy="449.80" r="1.95" fill="#7570b3"/>
<circle cx="195.40" cy="452.80" r="1.95" fill="#7570b3"/>
<circle cx="200.90" cy="454.40" r="1.95" fill="#7570b3"/>
<circle cx="205.20" cy="455.30" r="1.95" fill="#7570b3"/>
<circle cx="206.50" cy="452.20" r="1.95" fill="#7570b3"/>
<circle cx="209.50" cy="453.80" r="1.95" fill="#7570b3"/>
<circle cx="238.90" cy="439.60" r="1.95" fill="#7570b3"/>
<circle cx="244.50" cy="439.90" r="1.95" fill="#7570b3"/>
<circle cx="247.80" cy="440.80" r="1.95" fill="#7570b3"/>
<circle cx="250.90" cy="440.80" r="1.95" fill="#7570b3"/>
<circle cx="253.10" cy="442.70" r="1.95" fill="#7570b3"/>
<circle cx="242.30" cy="444.20" r="1.95" fill="#7570b3"/>
<circle cx="245.40" cy="443.60" r="1.95" fill="#7570b3"/>
<circle cx="247.80" cy="444.20" r="1.95" fill="#7570b3"/>
<circle cx="253.10" cy="445.50" r="1.95" fill="#7570b3"/>
<circle cx="237.10" cy="447.30" r="1.95" fill="#7570b3"/>
<circle cx="238.30" cy="449.20" r="1.95" fill="#7570b3"/>
<circle cx="243.80" cy="447.90" r="1.95" fill="#7570b3"/>
<circle cx="246.60" cy="448.20" r="1.95" fill="#7570b3"/>
<circle cx="244.80" cy="450.40" r="1.95" fill="#7570b3"/>
<circle cx="247.80" cy="451.00" r="1.95" fill="#7570b3"/>
<circle cx="250.90" cy="449.50" r="1.95" fill="#7570b3"/>
<circle cx="254.30" cy="450.10" r="1.95" fill="#7570b3"/>
<circle cx="254.00" cy="452.50" r="1.95" fill="#7570b3"/>
<circle cx="239.20" cy="453.50" r="1.95" fill="#7570b3"/>
<circle cx="242.00" cy="454.10" r="1.95" fill="#7570b3"/>
<circle cx="243.20" cy="455.30" r="1.95" fill="#7570b3"/>
<circle cx="287.50" cy="439.60" r="1.95" fill="#7570b3"/>
<circle cx="285.90" cy="441.80" r="1.95" fill="#7570b3"/>
<circle cx="284.10" cy="444.50" r="1.95" fill="#7570b3"/>
<circle cx="288.40" cy="442.70" r="1.95" fill="#7570b3"/>
<circle cx="291.80" cy="440.80" r="1.95" fill="#7570b3"/>
<circle cx="295.50" cy="439.60" r="1.95" fill="#7570b3"/>
<circle cx="292.70" cy="442.40" r="1.95" fill="#7570b3"/>
<circle cx="281.00" cy="448.80" r="1.95" fill="#7570b3"/>
<circle cx="280.40" cy="450.40" r="1.95" fill="#7570b3"/>
<circle cx="282.20" cy="452.50" r="1.95" fill="#7570b3"/>
<circle cx="289.00" cy="447.60" r="1.95" fill="#7570b3"/>
<circle cx="289.90" cy="449.80" r="1.95" fill="#7570b3"/>
<circle cx="287.20" cy="453.80" r="1.95" fill="#7570b3"/>
<circle cx="290.20" cy="453.50" r="1.95" fill="#7570b3"/>
<circle cx="293.30" cy="455.30" r="1.95" fill="#7570b3"/>
<circle cx="294.80" cy="453.50" r="1.95" fill="#7570b3"/>
<circle cx="296.40" cy="451.30" r="1.95" fill="#7570b3"/>
<circle cx="324.90" cy="441.50" r="1.95" fill="#7570b3"/>
<circle cx="327.70" cy="440.50" r="1.95" fill="#7570b3"/>
<circle cx="330.20" cy="442.70" r="1.95" fill="#7570b3"/>
<circle cx="332.90" cy="442.40" r="1.95" fill="#7570b3"/>
<circle cx="329.20" cy="445.20" r="1.95" fill="#7570b3"/>
<circle cx="339.70" cy="443.60" r="1.95" fill="#7570b3"/>
<circle cx="337.50" cy="446.70" r="1.95" fill="#7570b3"/>
<circle cx="326.50" cy="448.20" r="1.95" fill="#7570b3"/>
<circle cx="330.20" cy="448.20" r="1.95" fill="#7570b3"/>
<circle cx="323.70" cy="451.00" r="1.95" fill="#7570b3"/>
<circle cx="328.30" cy="451.00" r="1.95" fill="#7570b3"/>
<circle cx="339.10" cy="449.20" r="1.95" fill="#7570b3"/>
<circle cx="337.20" cy="451.30" r="1.95" fill="#7570b3"/>
<circle cx="330.50" cy="454.70" r="1.95" fill="#7570b3"/>
<circle cx="333.80" cy="454.70" r="1.95" fill="#7570b3"/>
<circle cx="336.30" cy="454.40" r="1.95" fill="#7570b3"/>
<circle cx="339.40" cy="454.10" r="1.95" fill="#7570b3"/>
<circle cx="369.20" cy="441.50" r="1.95" fill="#7570b3"/>
<circle cx="370.10" cy="444.20" r="1.95" fill="#7570b3"/>
<circle cx="378.10" cy="441.80" r="1.95" fill="#7570b3"/>
<circle cx="379.60" cy="442.10" r="1.95" fill="#7570b3"/>
<circle cx="378.40" cy="447.30" r="1.95" fill="#7570b3"/>
<circle cx="372.50" cy="450.40" r="1.95" fill="#7570b3"/>
<circle cx="376.20" cy="451.00" r="1.95" fill="#7570b3"/>
<circle cx="367.30" cy="453.20" r="1.95" fill="#7570b3"/>
<circle cx="366.10" cy="455.00" r="1.95" fill="#7570b3"/>
<circle cx="381.20" cy="453.50" r="1.95" fill="#7570b3"/>
<circle cx="423.32" cy="439.80" r="1.95" fill="#7570b3"/>
<circle cx="411.17" cy="441.78" r="1.95" fill="#7570b3"/>
<circle cx="419.05" cy="441.40" r="1.95" fill="#7570b3"/>
<circle cx="421.12" cy="442.12" r="1.95" fill="#7570b3"/>
<circle cx="423.06" cy="441.77" r="1.95" fill="#7570b3"/>
<circle cx="410.67" cy="443.80" r="1.95" fill="#7570b3"/>
<circle cx="411.88" cy="443.63" r="1.95" fill="#7570b3"/>
<circle cx="414.07" cy="443.04" r="1.95" fill="#7570b3"/>
<circle cx="415.86" cy="443.60" r="1.95" fill="#7570b3"/>
<circle cx="421.95" cy="443.21" r="1.95" fill="#7570b3"/>
<circle cx="423.99" cy="443.79" r="1.95" fill="#7570b3"/>
<circle cx="411.03" cy="444.93" r="1.95" fill="#7570b3"/>
<circle cx="413.30" cy="444.70" r="1.95" fill="#7570b3"/>
<circle cx="414.69" cy="445.34" r="1.95" fill="#7570b3"/>
<circle cx="416.83" cy="445.42" r="1.95" fill="#7570b3"/>
<circle cx="420.76" cy="445.03" r="1.95" fill="#7570b3"/>
<circle cx="422.83" cy="445.10" r="1.95" fill="#7570b3"/>
<circle cx="419.97" cy="446.27" r="1.95" fill="#7570b3"/>
<circle cx="421.86" cy="446.63" r="1.95" fill="#7570b3"/>
<circle cx="423.81" cy="446.53" r="1.95" fill="#7570b3"/>
<circle cx="409.56" cy="448.73" r="1.95" fill="#7570b3"/>
<circle cx="411.08" cy="448.28" r="1.95" fill="#7570b3"/>
<circle cx="421.05" cy="447.89" r="1.95" fill="#7570b3"/>
<circle cx="422.76" cy="448.53" r="1.95" fill="#7570b3"/>
<circle cx="424.43" cy="448.07" r="1.95" fill="#7570b3"/>
<circle cx="410.53" cy="449.61" r="1.95" fill="#7570b3"/>
<circle cx="412.09" cy="449.82" r="1.95" fill="#7570b3"/>
<circle cx="420.20" cy="449.93" r="1.95" fill="#7570b3"/>
<circle cx="421.50" cy="449.63" r="1.95" fill="#7570b3"/>
<circle cx="409.68" cy="451.75" r="1.95" fill="#7570b3"/>
<circle cx="411.58" cy="451.48" r="1.95" fill="#7570b3"/>
<circle cx="412.87" cy="451.44" r="1.95" fill="#7570b3"/>
<circle cx="415.36" cy="451.42" r="1.95" fill="#7570b3"/>
<circle cx="416.86" cy="451.55" r="1.95" fill="#7570b3"/>
<circle cx="418.83" cy="451.54" r="1.95" fill="#7570b3"/>
<circle cx="421.18" cy="451.31" r="1.95" fill="#7570b3"/>
<circle cx="412.40" cy="453.29" r="1.95" fill="#7570b3"/>
<circle cx="413.96" cy="453.13" r="1.95" fill="#7570b3"/>
<circle cx="415.80" cy="452.89" r="1.95" fill="#7570b3"/>
<circle cx="418.03" cy="453.09" r="1.95" fill="#7570b3"/>
<circle cx="420.13" cy="452.87" r="1.95" fill="#7570b3"/>
<circle cx="422.11" cy="453.45" r="1.95" fill="#7570b3"/>
<circle cx="418.88" cy="455.18" r="1.95" fill="#7570b3"/>
<circle cx="420.67" cy="454.66" r="1.95" fill="#7570b3"/>
<circle cx="411.07" cy="439.90" r="1.95" fill="#7570b3"/>
<circle cx="410.76" cy="443.56" r="1.95" fill="#7570b3"/>
<circle cx="410.61" cy="445.73" r="1.95" fill="#7570b3"/>
<circle cx="409.79" cy="448.71" r="1.95" fill="#7570b3"/>
<circle cx="409.81" cy="451.30" r="1.95" fill="#7570b3"/>
<circle cx="412.49" cy="452.56" r="1.95" fill="#7570b3"/>
<circle cx="414.43" cy="453.51" r="1.95" fill="#7570b3"/>
<circle cx="417.37" cy="454.05" r="1.95" fill="#7570b3"/>
<circle cx="421.29" cy="454.98" r="1.95" fill="#7570b3"/>
<circle cx="422.85" cy="453.34" r="1.95" fill="#7570b3"/>
<circle cx="423.95" cy="448.61" r="1.95" fill="#7570b3"/>
<circle cx="423.49" cy="445.49" r="1.95" fill="#7570b3"/>
<circle cx="423.29" cy="442.54" r="1.95" fill="#7570b3"/>
<circle cx="422.81" cy="440.43" r="1.95" fill="#7570b3"/>
<circle cx="420.69" cy="440.94" r="1.95" fill="#7570b3"/>
<circle cx="417.04" cy="441.17" r="1.95" fill="#7570b3"/>
<circle cx="415.06" cy="443.42" r="1.95" fill="#7570b3"/>
<circle cx="413.00" cy="442.46" r="1.95" fill="#7570b3"/>
<path d="M110.9,504.4 L110.9,504.20 L111.9,504.18 L112.9,504.16 L113.9,504.13 L114.9,504.10 L115.9,504.07 L116.9,504.03 L117.9,503.99 L118.9,503.95 L119.9,503.91 L120.9,503.86 L121.9,503.80 L122.9,503.74 L123.9,503.68 L124.9,503.61 L125.9,503.53 L126.9,503.45 L127.9,503.36 L128.9,503.27 L129.9,503.17 L130.9,503.06 L131.9,502.94 L132.9,502.81 L133.9,502.68 L134.9,502.53 L135.9,502.38 L136.9,502.21 L137.9,502.04 L138.9,501.85 L139.9,501.65 L140.9,501.44 L141.9,501.22 L142.9,500.99 L143.9,500.74 L144.9,500.48 L145.9,500.20 L146.9,499.91 L147.9,499.61 L148.9,499.29 L149.9,498.96 L150.9,498.61 L151.9,498.25 L152.9,497.87 L153.9,497.48 L154.9,497.07 L155.9,496.64 L156.9,496.20 L157.9,495.75 L158.9,495.28 L159.9,494.80 L160.9,494.30 L161.9,493.79 L162.9,493.26 L163.9,492.72 L164.9,492.17 L165.9,491.61 L166.9,491.04 L167.9,490.45 L168.9,489.86 L169.9,489.26 L170.9,488.65 L171.9,488.04 L172.9,487.42 L173.9,486.79 L174.9,486.17 L175.9,485.54 L176.9,484.91 L177.9,484.28 L178.9,483.65 L179.9,483.02 L180.9,482.40 L181.9,481.79 L182.9,481.18 L183.9,480.58 L184.9,479.99 L185.9,479.41 L186.9,478.85 L187.9,478.29 L188.9,477.76 L189.9,477.23 L190.9,476.73 L191.9,476.24 L192.9,475.77 L193.9,475.32 L194.9,474.89 L195.9,474.49 L196.9,474.10 L197.9,473.74 L198.9,473.41 L199.9,473.09 L200.9,472.80 L201.9,472.54 L202.9,472.30 L203.9,472.09 L204.9,471.90 L205.9,471.73 L206.9,471.59 L207.9,471.47 L208.9,471.38 L209.9,471.31 L210.9,471.27 L211.9,471.24 L212.9,471.24 L213.9,471.26 L214.9,471.30 L215.9,471.36 L216.9,471.44 L217.9,471.53 L218.9,471.64 L219.9,471.77 L220.9,471.91 L221.9,472.06 L222.9,472.22 L223.9,472.39 L224.9,472.58 L225.9,472.77 L226.9,472.97 L227.9,473.17 L228.9,473.38 L229.9,473.59 L230.9,473.80 L231.9,474.01 L232.9,474.22 L233.9,474.44 L234.9,474.64 L235.9,474.85 L236.9,475.05 L237.9,475.25 L238.9,475.44 L239.9,475.62 L240.9,475.80 L241.9,475.97 L242.9,476.13 L243.9,476.28 L244.9,476.42 L245.9,476.55 L246.9,476.67 L247.9,476.78 L248.9,476.88 L249.9,476.97 L250.9,477.05 L251.9,477.12 L252.9,477.18 L253.9,477.23 L254.9,477.27 L255.9,477.30 L256.9,477.32 L257.9,477.33 L258.9,477.34 L259.9,477.33 L260.9,477.32 L261.9,477.31 L262.9,477.29 L263.9,477.26 L264.9,477.23 L265.9,477.19 L266.9,477.16 L267.9,477.12 L268.9,477.08 L269.9,477.04 L270.9,477.00 L271.9,476.96 L272.9,476.92 L273.9,476.89 L274.9,476.86 L275.9,476.83 L276.9,476.81 L277.9,476.79 L278.9,476.78 L279.9,476.77 L280.9,476.77 L281.9,476.78 L282.9,476.80 L283.9,476.82 L284.9,476.85 L285.9,476.89 L286.9,476.94 L287.9,477.00 L288.9,477.06 L289.9,477.14 L290.9,477.22 L291.9,477.31 L292.9,477.41 L293.9,477.52 L294.9,477.64 L295.9,477.76 L296.9,477.89 L297.9,478.03 L298.9,478.18 L299.9,478.33 L300.9,478.49 L301.9,478.65 L302.9,478.82 L303.9,479.00 L304.9,479.18 L305.9,479.36 L306.9,479.55 L307.9,479.75 L308.9,479.94 L309.9,480.14 L310.9,480.34 L311.9,480.55 L312.9,480.75 L313.9,480.96 L314.9,481.17 L315.9,481.38 L316.9,481.59 L317.9,481.80 L318.9,482.01 L319.9,482.22 L320.9,482.44 L321.9,482.65 L322.9,482.86 L323.9,483.07 L324.9,483.28 L325.9,483.49 L326.9,483.70 L327.9,483.90 L328.9,484.11 L329.9,484.31 L330.9,484.51 L331.9,484.71 L332.9,484.91 L333.9,485.11 L334.9,485.30 L335.9,485.49 L336.9,485.67 L337.9,485.86 L338.9,486.03 L339.9,486.21 L340.9,486.38 L341.9,486.54 L342.9,486.69 L343.9,486.85 L344.9,486.99 L345.9,487.12 L346.9,487.25 L347.9,487.37 L348.9,487.48 L349.9,487.57 L350.9,487.66 L351.9,487.74 L352.9,487.80 L353.9,487.85 L354.9,487.88 L355.9,487.91 L356.9,487.91 L357.9,487.90 L358.9,487.88 L359.9,487.83 L360.9,487.77 L361.9,487.69 L362.9,487.59 L363.9,487.47 L364.9,487.34 L365.9,487.18 L366.9,487.00 L367.9,486.80 L368.9,486.58 L369.9,486.34 L370.9,486.08 L371.9,485.80 L372.9,485.50 L373.9,485.17 L374.9,484.83 L375.9,484.47 L376.9,484.09 L377.9,483.70 L378.9,483.28 L379.9,482.85 L380.9,482.40 L381.9,481.94 L382.9,481.47 L383.9,480.98 L384.9,480.49 L385.9,479.98 L386.9,479.47 L387.9,478.95 L388.9,478.43 L389.9,477.91 L390.9,477.38 L391.9,476.85 L392.9,476.33 L393.9,475.81 L394.9,475.30 L395.9,474.80 L396.9,474.31 L397.9,473.82 L398.9,473.36 L399.9,472.91 L400.9,472.48 L401.9,472.06 L402.9,471.67 L403.9,471.30 L404.9,470.96 L405.9,470.64 L406.9,470.35 L407.9,470.09 L408.9,469.87 L409.9,469.67 L410.9,469.50 L411.9,469.37 L412.9,469.28 L413.9,469.21 L414.9,469.19 L415.9,469.20 L416.9,469.25 L417.9,469.33 L418.9,469.45 L419.9,469.61 L420.9,469.80 L421.9,470.03 L422.9,470.30 L423.9,470.60 L424.9,470.93 L425.9,471.30 L426.9,471.70 L427.9,472.13 L428.9,472.59 L429.9,473.08 L430.9,473.59 L431.9,474.13 L432.9,474.70 L433.9,475.29 L434.9,475.89 L435.9,476.52 L436.9,477.17 L437.9,477.83 L438.9,478.50 L439.9,479.18 L440.9,479.88 L441.9,480.58 L442.9,481.29 L443.9,482.01 L444.9,482.72 L445.9,483.44 L446.9,484.16 L447.9,484.88 L448.9,485.59 L449.9,486.30 L450.9,487.00 L451.9,487.69 L452.9,488.38 L453.9,489.05 L454.9,489.71 L455.9,490.36 L456.9,491.00 L457.9,491.63 L458.9,492.23 L459.9,492.83 L460.9,493.40 L461.9,493.97 L462.9,494.51 L463.9,495.04 L464.9,495.54 L465.9,496.03 L466.9,496.51 L467.9,496.96 L468.9,497.40 L469.9,497.82 L470.9,498.22 L471.9,498.60 L472.9,498.97 L473.9,499.32 L474.9,499.65 L475.9,499.97 L476.9,500.27 L477.9,500.55 L478.9,500.82 L479.9,501.07 L480.9,501.31 L481.9,501.54 L482.9,501.75 L483.9,501.95 L484.9,502.14 L485.9,502.31 L486.9,502.48 L487.9,502.63 L488.9,502.77 L489.9,502.90 L490.9,503.03 L491.9,503.14 L492.9,503.25 L493.9,503.35 L494.9,503.44 L495.9,503.53 L496.9,503.60 L497.9,503.68 L498.9,503.74 L499.9,503.80 L500.9,503.86 L501.9,503.91 L502.9,503.96 L503.9,504.00 L504.9,504.04 L505.9,504.07 L506.9,504.11 L507.9,504.14 L508.9,504.16 L509.9,504.19 L510.5,504.20 L510.5,504.4 Z" fill="#ecaf80" stroke="none"/>
<path d="M110.9,504.20 L111.9,504.18 L112.9,504.16 L113.9,504.13 L114.9,504.10 L115.9,504.07 L116.9,504.03 L117.9,503.99 L118.9,503.95 L119.9,503.91 L120.9,503.86 L121.9,503.80 L122.9,503.74 L123.9,503.68 L124.9,503.61 L125.9,503.53 L126.9,503.45 L127.9,503.36 L128.9,503.27 L129.9,503.17 L130.9,503.06 L131.9,502.94 L132.9,502.81 L133.9,502.68 L134.9,502.53 L135.9,502.38 L136.9,502.21 L137.9,502.04 L138.9,501.85 L139.9,501.65 L140.9,501.44 L141.9,501.22 L142.9,500.99 L143.9,500.74 L144.9,500.48 L145.9,500.20 L146.9,499.91 L147.9,499.61 L148.9,499.29 L149.9,498.96 L150.9,498.61 L151.9,498.25 L152.9,497.87 L153.9,497.48 L154.9,497.07 L155.9,496.64 L156.9,496.20 L157.9,495.75 L158.9,495.28 L159.9,494.80 L160.9,494.30 L161.9,493.79 L162.9,493.26 L163.9,492.72 L164.9,492.17 L165.9,491.61 L166.9,491.04 L167.9,490.45 L168.9,489.86 L169.9,489.26 L170.9,488.65 L171.9,488.04 L172.9,487.42 L173.9,486.79 L174.9,486.17 L175.9,485.54 L176.9,484.91 L177.9,484.28 L178.9,483.65 L179.9,483.02 L180.9,482.40 L181.9,481.79 L182.9,481.18 L183.9,480.58 L184.9,479.99 L185.9,479.41 L186.9,478.85 L187.9,478.29 L188.9,477.76 L189.9,477.23 L190.9,476.73 L191.9,476.24 L192.9,475.77 L193.9,475.32 L194.9,474.89 L195.9,474.49 L196.9,474.10 L197.9,473.74 L198.9,473.41 L199.9,473.09 L200.9,472.80 L201.9,472.54 L202.9,472.30 L203.9,472.09 L204.9,471.90 L205.9,471.73 L206.9,471.59 L207.9,471.47 L208.9,471.38 L209.9,471.31 L210.9,471.27 L211.9,471.24 L212.9,471.24 L213.9,471.26 L214.9,471.30 L215.9,471.36 L216.9,471.44 L217.9,471.53 L218.9,471.64 L219.9,471.77 L220.9,471.91 L221.9,472.06 L222.9,472.22 L223.9,472.39 L224.9,472.58 L225.9,472.77 L226.9,472.97 L227.9,473.17 L228.9,473.38 L229.9,473.59 L230.9,473.80 L231.9,474.01 L232.9,474.22 L233.9,474.44 L234.9,474.64 L235.9,474.85 L236.9,475.05 L237.9,475.25 L238.9,475.44 L239.9,475.62 L240.9,475.80 L241.9,475.97 L242.9,476.13 L243.9,476.28 L244.9,476.42 L245.9,476.55 L246.9,476.67 L247.9,476.78 L248.9,476.88 L249.9,476.97 L250.9,477.05 L251.9,477.12 L252.9,477.18 L253.9,477.23 L254.9,477.27 L255.9,477.30 L256.9,477.32 L257.9,477.33 L258.9,477.34 L259.9,477.33 L260.9,477.32 L261.9,477.31 L262.9,477.29 L263.9,477.26 L264.9,477.23 L265.9,477.19 L266.9,477.16 L267.9,477.12 L268.9,477.08 L269.9,477.04 L270.9,477.00 L271.9,476.96 L272.9,476.92 L273.9,476.89 L274.9,476.86 L275.9,476.83 L276.9,476.81 L277.9,476.79 L278.9,476.78 L279.9,476.77 L280.9,476.77 L281.9,476.78 L282.9,476.80 L283.9,476.82 L284.9,476.85 L285.9,476.89 L286.9,476.94 L287.9,477.00 L288.9,477.06 L289.9,477.14 L290.9,477.22 L291.9,477.31 L292.9,477.41 L293.9,477.52 L294.9,477.64 L295.9,477.76 L296.9,477.89 L297.9,478.03 L298.9,478.18 L299.9,478.33 L300.9,478.49 L301.9,478.65 L302.9,478.82 L303.9,479.00 L304.9,479.18 L305.9,479.36 L306.9,479.55 L307.9,479.75 L308.9,479.94 L309.9,480.14 L310.9,480.34 L311.9,480.55 L312.9,480.75 L313.9,480.96 L314.9,481.17 L315.9,481.38 L316.9,481.59 L317.9,481.80 L318.9,482.01 L319.9,482.22 L320.9,482.44 L321.9,482.65 L322.9,482.86 L323.9,483.07 L324.9,483.28 L325.9,483.49 L326.9,483.70 L327.9,483.90 L328.9,484.11 L329.9,484.31 L330.9,484.51 L331.9,484.71 L332.9,484.91 L333.9,485.11 L334.9,485.30 L335.9,485.49 L336.9,485.67 L337.9,485.86 L338.9,486.03 L339.9,486.21 L340.9,486.38 L341.9,486.54 L342.9,486.69 L343.9,486.85 L344.9,486.99 L345.9,487.12 L346.9,487.25 L347.9,487.37 L348.9,487.48 L349.9,487.57 L350.9,487.66 L351.9,487.74 L352.9,487.80 L353.9,487.85 L354.9,487.88 L355.9,487.91 L356.9,487.91 L357.9,487.90 L358.9,487.88 L359.9,487.83 L360.9,487.77 L361.9,487.69 L362.9,487.59 L363.9,487.47 L364.9,487.34 L365.9,487.18 L366.9,487.00 L367.9,486.80 L368.9,486.58 L369.9,486.34 L370.9,486.08 L371.9,485.80 L372.9,485.50 L373.9,485.17 L374.9,484.83 L375.9,484.47 L376.9,484.09 L377.9,483.70 L378.9,483.28 L379.9,482.85 L380.9,482.40 L381.9,481.94 L382.9,481.47 L383.9,480.98 L384.9,480.49 L385.9,479.98 L386.9,479.47 L387.9,478.95 L388.9,478.43 L389.9,477.91 L390.9,477.38 L391.9,476.85 L392.9,476.33 L393.9,475.81 L394.9,475.30 L395.9,474.80 L396.9,474.31 L397.9,473.82 L398.9,473.36 L399.9,472.91 L400.9,472.48 L401.9,472.06 L402.9,471.67 L403.9,471.30 L404.9,470.96 L405.9,470.64 L406.9,470.35 L407.9,470.09 L408.9,469.87 L409.9,469.67 L410.9,469.50 L411.9,469.37 L412.9,469.28 L413.9,469.21 L414.9,469.19 L415.9,469.20 L416.9,469.25 L417.9,469.33 L418.9,469.45 L419.9,469.61 L420.9,469.80 L421.9,470.03 L422.9,470.30 L423.9,470.60 L424.9,470.93 L425.9,471.30 L426.9,471.70 L427.9,472.13 L428.9,472.59 L429.9,473.08 L430.9,473.59 L431.9,474.13 L432.9,474.70 L433.9,475.29 L434.9,475.89 L435.9,476.52 L436.9,477.17 L437.9,477.83 L438.9,478.50 L439.9,479.18 L440.9,479.88 L441.9,480.58 L442.9,481.29 L443.9,482.01 L444.9,482.72 L445.9,483.44 L446.9,484.16 L447.9,484.88 L448.9,485.59 L449.9,486.30 L450.9,487.00 L451.9,487.69 L452.9,488.38 L453.9,489.05 L454.9,489.71 L455.9,490.36 L456.9,491.00 L457.9,491.63 L458.9,492.23 L459.9,492.83 L460.9,493.40 L461.9,493.97 L462.9,494.51 L463.9,495.04 L464.9,495.54 L465.9,496.03 L466.9,496.51 L467.9,496.96 L468.9,497.40 L469.9,497.82 L470.9,498.22 L471.9,498.60 L472.9,498.97 L473.9,499.32 L474.9,499.65 L475.9,499.97 L476.9,500.27 L477.9,500.55 L478.9,500.82 L479.9,501.07 L480.9,501.31 L481.9,501.54 L482.9,501.75 L483.9,501.95 L484.9,502.14 L485.9,502.31 L486.9,502.48 L487.9,502.63 L488.9,502.77 L489.9,502.90 L490.9,503.03 L491.9,503.14 L492.9,503.25 L493.9,503.35 L494.9,503.44 L495.9,503.53 L496.9,503.60 L497.9,503.68 L498.9,503.74 L499.9,503.80 L500.9,503.86 L501.9,503.91 L502.9,503.96 L503.9,504.00 L504.9,504.04 L505.9,504.07 L506.9,504.11 L507.9,504.14 L508.9,504.16 L509.9,504.19 L510.5,504.20" fill="none" stroke="#333" stroke-width="1.0"/>
<line x1="110.9" y1="504.4" x2="510.5" y2="504.4" stroke="#3a3a3a" stroke-width="0.95"/>
<line x1="195.5" y1="500.79999999999995" x2="195.5" y2="508.5" stroke="#1a1a1a" stroke-width="1.3"/>
<line x1="425.7" y1="500.79999999999995" x2="425.7" y2="508.5" stroke="#1a1a1a" stroke-width="1.3"/>
<rect x="211.3" y="496.45" width="200.50" height="16.35" fill="#d95f02" stroke="#333333" stroke-width="1.05"/>
<line x1="292.5" y1="496.45" x2="292.5" y2="512.8" stroke="#1c1c1c" stroke-width="1.6"/>
<circle cx="238.00" cy="521.50" r="1.95" fill="#d95f02"/>
<circle cx="237.40" cy="525.20" r="1.95" fill="#d95f02"/>
<circle cx="238.60" cy="527.10" r="1.95" fill="#d95f02"/>
<circle cx="246.30" cy="527.70" r="1.95" fill="#d95f02"/>
<circle cx="250.30" cy="522.20" r="1.95" fill="#d95f02"/>
<circle cx="252.20" cy="521.20" r="1.95" fill="#d95f02"/>
<circle cx="250.90" cy="524.30" r="1.95" fill="#d95f02"/>
<circle cx="252.20" cy="526.80" r="1.95" fill="#d95f02"/>
<circle cx="241.40" cy="531.40" r="1.95" fill="#d95f02"/>
<circle cx="244.20" cy="531.10" r="1.95" fill="#d95f02"/>
<circle cx="243.20" cy="532.90" r="1.95" fill="#d95f02"/>
<circle cx="246.60" cy="532.30" r="1.95" fill="#d95f02"/>
<circle cx="247.80" cy="534.50" r="1.95" fill="#d95f02"/>
<circle cx="250.30" cy="535.70" r="1.95" fill="#d95f02"/>
<circle cx="251.80" cy="534.50" r="1.95" fill="#d95f02"/>
<circle cx="253.40" cy="531.70" r="1.95" fill="#d95f02"/>
<circle cx="238.90" cy="536.00" r="1.95" fill="#d95f02"/>
<circle cx="282.20" cy="522.20" r="1.95" fill="#d95f02"/>
<circle cx="290.20" cy="521.80" r="1.95" fill="#d95f02"/>
<circle cx="286.50" cy="524.00" r="1.95" fill="#d95f02"/>
<circle cx="282.50" cy="526.20" r="1.95" fill="#d95f02"/>
<circle cx="288.10" cy="526.20" r="1.95" fill="#d95f02"/>
<circle cx="291.50" cy="525.80" r="1.95" fill="#d95f02"/>
<circle cx="285.60" cy="528.60" r="1.95" fill="#d95f02"/>
<circle cx="288.70" cy="528.00" r="1.95" fill="#d95f02"/>
<circle cx="294.20" cy="527.70" r="1.95" fill="#d95f02"/>
<circle cx="296.10" cy="530.50" r="1.95" fill="#d95f02"/>
<circle cx="286.80" cy="531.40" r="1.95" fill="#d95f02"/>
<circle cx="280.10" cy="531.70" r="1.95" fill="#d95f02"/>
<circle cx="291.50" cy="532.60" r="1.95" fill="#d95f02"/>
<circle cx="295.20" cy="532.90" r="1.95" fill="#d95f02"/>
<circle cx="297.30" cy="534.50" r="1.95" fill="#d95f02"/>
<circle cx="283.80" cy="534.50" r="1.95" fill="#d95f02"/>
<circle cx="282.20" cy="537.20" r="1.95" fill="#d95f02"/>
<circle cx="284.40" cy="536.90" r="1.95" fill="#d95f02"/>
<circle cx="289.90" cy="536.90" r="1.95" fill="#d95f02"/>
<circle cx="293.30" cy="536.30" r="1.95" fill="#d95f02"/>
<circle cx="324.60" cy="521.50" r="1.95" fill="#d95f02"/>
<circle cx="330.80" cy="522.80" r="1.95" fill="#d95f02"/>
<circle cx="332.60" cy="524.90" r="1.95" fill="#d95f02"/>
<circle cx="336.90" cy="521.80" r="1.95" fill="#d95f02"/>
<circle cx="325.80" cy="528.00" r="1.95" fill="#d95f02"/>
<circle cx="328.90" cy="527.40" r="1.95" fill="#d95f02"/>
<circle cx="324.00" cy="531.70" r="1.95" fill="#d95f02"/>
<circle cx="334.20" cy="529.80" r="1.95" fill="#d95f02"/>
<circle cx="336.30" cy="529.20" r="1.95" fill="#d95f02"/>
<circle cx="340.00" cy="529.20" r="1.95" fill="#d95f02"/>
<circle cx="334.20" cy="532.00" r="1.95" fill="#d95f02"/>
<circle cx="335.40" cy="537.20" r="1.95" fill="#d95f02"/>
<circle cx="366.10" cy="522.20" r="1.95" fill="#d95f02"/>
<circle cx="371.00" cy="522.20" r="1.95" fill="#d95f02"/>
<circle cx="378.70" cy="520.90" r="1.95" fill="#d95f02"/>
<circle cx="381.20" cy="524.90" r="1.95" fill="#d95f02"/>
<circle cx="373.20" cy="527.40" r="1.95" fill="#d95f02"/>
<circle cx="378.10" cy="530.80" r="1.95" fill="#d95f02"/>
<circle cx="377.80" cy="536.90" r="1.95" fill="#d95f02"/>
<circle cx="196.86" cy="522.27" r="1.95" fill="#d95f02"/>
<circle cx="200.55" cy="522.11" r="1.95" fill="#d95f02"/>
<circle cx="195.79" cy="523.54" r="1.95" fill="#d95f02"/>
<circle cx="197.30" cy="523.43" r="1.95" fill="#d95f02"/>
<circle cx="199.78" cy="523.19" r="1.95" fill="#d95f02"/>
<circle cx="200.99" cy="523.72" r="1.95" fill="#d95f02"/>
<circle cx="203.10" cy="523.64" r="1.95" fill="#d95f02"/>
<circle cx="198.91" cy="524.90" r="1.95" fill="#d95f02"/>
<circle cx="200.06" cy="525.01" r="1.95" fill="#d95f02"/>
<circle cx="202.59" cy="525.36" r="1.95" fill="#d95f02"/>
<circle cx="204.01" cy="525.11" r="1.95" fill="#d95f02"/>
<circle cx="205.86" cy="525.22" r="1.95" fill="#d95f02"/>
<circle cx="207.64" cy="525.44" r="1.95" fill="#d95f02"/>
<circle cx="199.61" cy="527.20" r="1.95" fill="#d95f02"/>
<circle cx="201.21" cy="526.63" r="1.95" fill="#d95f02"/>
<circle cx="203.25" cy="526.58" r="1.95" fill="#d95f02"/>
<circle cx="206.95" cy="526.47" r="1.95" fill="#d95f02"/>
<circle cx="208.59" cy="526.61" r="1.95" fill="#d95f02"/>
<circle cx="197.08" cy="528.50" r="1.95" fill="#d95f02"/>
<circle cx="198.29" cy="528.17" r="1.95" fill="#d95f02"/>
<circle cx="200.05" cy="528.27" r="1.95" fill="#d95f02"/>
<circle cx="210.20" cy="528.48" r="1.95" fill="#d95f02"/>
<circle cx="195.28" cy="530.15" r="1.95" fill="#d95f02"/>
<circle cx="197.37" cy="530.57" r="1.95" fill="#d95f02"/>
<circle cx="209.39" cy="530.28" r="1.95" fill="#d95f02"/>
<circle cx="196.91" cy="532.09" r="1.95" fill="#d95f02"/>
<circle cx="202.71" cy="532.25" r="1.95" fill="#d95f02"/>
<circle cx="204.10" cy="532.01" r="1.95" fill="#d95f02"/>
<circle cx="206.42" cy="532.00" r="1.95" fill="#d95f02"/>
<circle cx="208.33" cy="531.90" r="1.95" fill="#d95f02"/>
<circle cx="196.12" cy="533.94" r="1.95" fill="#d95f02"/>
<circle cx="197.75" cy="533.11" r="1.95" fill="#d95f02"/>
<circle cx="201.82" cy="533.67" r="1.95" fill="#d95f02"/>
<circle cx="202.90" cy="533.22" r="1.95" fill="#d95f02"/>
<circle cx="205.32" cy="533.59" r="1.95" fill="#d95f02"/>
<circle cx="207.32" cy="533.91" r="1.95" fill="#d95f02"/>
<circle cx="208.75" cy="533.08" r="1.95" fill="#d95f02"/>
<circle cx="196.93" cy="535.43" r="1.95" fill="#d95f02"/>
<circle cx="198.89" cy="535.22" r="1.95" fill="#d95f02"/>
<circle cx="200.79" cy="534.91" r="1.95" fill="#d95f02"/>
<circle cx="202.50" cy="535.02" r="1.95" fill="#d95f02"/>
<circle cx="204.60" cy="535.42" r="1.95" fill="#d95f02"/>
<circle cx="206.12" cy="535.20" r="1.95" fill="#d95f02"/>
<circle cx="207.62" cy="534.76" r="1.95" fill="#d95f02"/>
<circle cx="196.72" cy="522.89" r="1.95" fill="#d95f02"/>
<circle cx="196.00" cy="524.76" r="1.95" fill="#d95f02"/>
<circle cx="196.35" cy="527.91" r="1.95" fill="#d95f02"/>
<circle cx="195.52" cy="531.67" r="1.95" fill="#d95f02"/>
<circle cx="196.45" cy="534.57" r="1.95" fill="#d95f02"/>
<circle cx="198.44" cy="535.88" r="1.95" fill="#d95f02"/>
<circle cx="201.34" cy="534.14" r="1.95" fill="#d95f02"/>
<circle cx="204.49" cy="535.60" r="1.95" fill="#d95f02"/>
<circle cx="207.31" cy="535.75" r="1.95" fill="#d95f02"/>
<circle cx="209.05" cy="532.05" r="1.95" fill="#d95f02"/>
<circle cx="210.32" cy="530.23" r="1.95" fill="#d95f02"/>
<circle cx="209.69" cy="527.63" r="1.95" fill="#d95f02"/>
<circle cx="207.51" cy="525.23" r="1.95" fill="#d95f02"/>
<circle cx="204.31" cy="525.32" r="1.95" fill="#d95f02"/>
<circle cx="202.39" cy="523.03" r="1.95" fill="#d95f02"/>
<circle cx="200.30" cy="522.72" r="1.95" fill="#d95f02"/>
<circle cx="211.10" cy="536.30" r="1.95" fill="#d95f02"/>
<circle cx="419.89" cy="521.21" r="1.95" fill="#d95f02"/>
<circle cx="421.48" cy="521.45" r="1.95" fill="#d95f02"/>
<circle cx="423.82" cy="521.47" r="1.95" fill="#d95f02"/>
<circle cx="420.98" cy="522.31" r="1.95" fill="#d95f02"/>
<circle cx="423.13" cy="522.28" r="1.95" fill="#d95f02"/>
<circle cx="424.82" cy="523.02" r="1.95" fill="#d95f02"/>
<circle cx="411.96" cy="524.77" r="1.95" fill="#d95f02"/>
<circle cx="421.40" cy="524.58" r="1.95" fill="#d95f02"/>
<circle cx="423.92" cy="524.68" r="1.95" fill="#d95f02"/>
<circle cx="425.13" cy="524.76" r="1.95" fill="#d95f02"/>
<circle cx="423.14" cy="526.04" r="1.95" fill="#d95f02"/>
<circle cx="424.52" cy="525.78" r="1.95" fill="#d95f02"/>
<circle cx="411.83" cy="527.66" r="1.95" fill="#d95f02"/>
<circle cx="421.43" cy="527.98" r="1.95" fill="#d95f02"/>
<circle cx="423.47" cy="527.62" r="1.95" fill="#d95f02"/>
<circle cx="411.28" cy="529.13" r="1.95" fill="#d95f02"/>
<circle cx="413.11" cy="529.00" r="1.95" fill="#d95f02"/>
<circle cx="414.99" cy="529.76" r="1.95" fill="#d95f02"/>
<circle cx="422.95" cy="529.65" r="1.95" fill="#d95f02"/>
<circle cx="424.48" cy="529.58" r="1.95" fill="#d95f02"/>
<circle cx="412.05" cy="530.96" r="1.95" fill="#d95f02"/>
<circle cx="414.39" cy="531.14" r="1.95" fill="#d95f02"/>
<circle cx="415.86" cy="531.37" r="1.95" fill="#d95f02"/>
<circle cx="418.08" cy="531.04" r="1.95" fill="#d95f02"/>
<circle cx="419.41" cy="531.01" r="1.95" fill="#d95f02"/>
<circle cx="421.53" cy="531.13" r="1.95" fill="#d95f02"/>
<circle cx="423.62" cy="531.26" r="1.95" fill="#d95f02"/>
<circle cx="425.68" cy="531.24" r="1.95" fill="#d95f02"/>
<circle cx="411.17" cy="532.93" r="1.95" fill="#d95f02"/>
<circle cx="413.53" cy="532.79" r="1.95" fill="#d95f02"/>
<circle cx="415.53" cy="533.03" r="1.95" fill="#d95f02"/>
<circle cx="417.02" cy="532.65" r="1.95" fill="#d95f02"/>
<circle cx="418.60" cy="532.93" r="1.95" fill="#d95f02"/>
<circle cx="421.19" cy="532.60" r="1.95" fill="#d95f02"/>
<circle cx="422.87" cy="532.82" r="1.95" fill="#d95f02"/>
<circle cx="424.81" cy="532.33" r="1.95" fill="#d95f02"/>
<circle cx="410.46" cy="534.52" r="1.95" fill="#d95f02"/>
<circle cx="412.37" cy="534.48" r="1.95" fill="#d95f02"/>
<circle cx="413.72" cy="533.97" r="1.95" fill="#d95f02"/>
<circle cx="416.00" cy="534.41" r="1.95" fill="#d95f02"/>
<circle cx="417.70" cy="534.44" r="1.95" fill="#d95f02"/>
<circle cx="419.97" cy="533.86" r="1.95" fill="#d95f02"/>
<circle cx="421.72" cy="534.03" r="1.95" fill="#d95f02"/>
<circle cx="423.25" cy="533.95" r="1.95" fill="#d95f02"/>
<circle cx="425.39" cy="533.99" r="1.95" fill="#d95f02"/>
<circle cx="411.40" cy="536.01" r="1.95" fill="#d95f02"/>
<circle cx="416.80" cy="535.85" r="1.95" fill="#d95f02"/>
<circle cx="422.80" cy="535.57" r="1.95" fill="#d95f02"/>
<circle cx="424.64" cy="535.79" r="1.95" fill="#d95f02"/>
<circle cx="409.67" cy="534.73" r="1.95" fill="#d95f02"/>
<circle cx="412.36" cy="535.05" r="1.95" fill="#d95f02"/>
<circle cx="416.23" cy="535.16" r="1.95" fill="#d95f02"/>
<circle cx="419.07" cy="535.18" r="1.95" fill="#d95f02"/>
<circle cx="421.44" cy="533.87" r="1.95" fill="#d95f02"/>
<circle cx="424.05" cy="536.18" r="1.95" fill="#d95f02"/>
<circle cx="424.89" cy="534.28" r="1.95" fill="#d95f02"/>
<circle cx="425.73" cy="531.54" r="1.95" fill="#d95f02"/>
<circle cx="424.85" cy="528.58" r="1.95" fill="#d95f02"/>
<circle cx="424.53" cy="525.80" r="1.95" fill="#d95f02"/>
<circle cx="424.64" cy="522.48" r="1.95" fill="#d95f02"/>
<circle cx="422.80" cy="521.65" r="1.95" fill="#d95f02"/>
<circle cx="418.94" cy="521.78" r="1.95" fill="#d95f02"/>
<circle cx="420.23" cy="524.23" r="1.95" fill="#d95f02"/>
<circle cx="421.83" cy="526.10" r="1.95" fill="#d95f02"/>
<circle cx="420.80" cy="528.94" r="1.95" fill="#d95f02"/>
<circle cx="419.54" cy="531.17" r="1.95" fill="#d95f02"/>
<circle cx="416.35" cy="530.56" r="1.95" fill="#d95f02"/>
<circle cx="414.01" cy="528.92" r="1.95" fill="#d95f02"/>
<circle cx="412.87" cy="525.64" r="1.95" fill="#d95f02"/>
<circle cx="412.16" cy="526.23" r="1.95" fill="#d95f02"/>
<circle cx="410.84" cy="528.94" r="1.95" fill="#d95f02"/>
<circle cx="410.65" cy="532.10" r="1.95" fill="#d95f02"/>
<path d="M117.1,586.4 L117.1,586.22 L118.1,586.20 L119.1,586.18 L120.1,586.15 L121.1,586.12 L122.1,586.09 L123.1,586.06 L124.1,586.02 L125.1,585.98 L126.1,585.94 L127.1,585.89 L128.1,585.84 L129.1,585.78 L130.1,585.72 L131.1,585.65 L132.1,585.58 L133.1,585.50 L134.1,585.42 L135.1,585.33 L136.1,585.23 L137.1,585.13 L138.1,585.02 L139.1,584.90 L140.1,584.77 L141.1,584.63 L142.1,584.49 L143.1,584.33 L144.1,584.17 L145.1,584.00 L146.1,583.81 L147.1,583.62 L148.1,583.41 L149.1,583.20 L150.1,582.97 L151.1,582.73 L152.1,582.48 L153.1,582.22 L154.1,581.94 L155.1,581.66 L156.1,581.36 L157.1,581.05 L158.1,580.73 L159.1,580.40 L160.1,580.05 L161.1,579.70 L162.1,579.33 L163.1,578.95 L164.1,578.56 L165.1,578.16 L166.1,577.75 L167.1,577.33 L168.1,576.90 L169.1,576.47 L170.1,576.02 L171.1,575.57 L172.1,575.11 L173.1,574.65 L174.1,574.18 L175.1,573.70 L176.1,573.23 L177.1,572.75 L178.1,572.26 L179.1,571.78 L180.1,571.29 L181.1,570.81 L182.1,570.33 L183.1,569.84 L184.1,569.36 L185.1,568.89 L186.1,568.42 L187.1,567.95 L188.1,567.49 L189.1,567.03 L190.1,566.58 L191.1,566.14 L192.1,565.70 L193.1,565.27 L194.1,564.85 L195.1,564.44 L196.1,564.03 L197.1,563.64 L198.1,563.25 L199.1,562.87 L200.1,562.50 L201.1,562.14 L202.1,561.79 L203.1,561.44 L204.1,561.11 L205.1,560.78 L206.1,560.46 L207.1,560.14 L208.1,559.84 L209.1,559.54 L210.1,559.25 L211.1,558.96 L212.1,558.68 L213.1,558.41 L214.1,558.14 L215.1,557.87 L216.1,557.61 L217.1,557.36 L218.1,557.10 L219.1,556.86 L220.1,556.61 L221.1,556.37 L222.1,556.14 L223.1,555.91 L224.1,555.68 L225.1,555.45 L226.1,555.23 L227.1,555.01 L228.1,554.80 L229.1,554.59 L230.1,554.39 L231.1,554.19 L232.1,554.00 L233.1,553.81 L234.1,553.63 L235.1,553.45 L236.1,553.28 L237.1,553.12 L238.1,552.97 L239.1,552.82 L240.1,552.68 L241.1,552.55 L242.1,552.43 L243.1,552.31 L244.1,552.21 L245.1,552.11 L246.1,552.03 L247.1,551.95 L248.1,551.88 L249.1,551.83 L250.1,551.78 L251.1,551.74 L252.1,551.71 L253.1,551.69 L254.1,551.68 L255.1,551.68 L256.1,551.68 L257.1,551.70 L258.1,551.72 L259.1,551.75 L260.1,551.78 L261.1,551.83 L262.1,551.88 L263.1,551.93 L264.1,551.99 L265.1,552.06 L266.1,552.13 L267.1,552.20 L268.1,552.28 L269.1,552.37 L270.1,552.45 L271.1,552.54 L272.1,552.64 L273.1,552.73 L274.1,552.83 L275.1,552.93 L276.1,553.04 L277.1,553.15 L278.1,553.25 L279.1,553.37 L280.1,553.48 L281.1,553.60 L282.1,553.72 L283.1,553.84 L284.1,553.97 L285.1,554.10 L286.1,554.23 L287.1,554.37 L288.1,554.51 L289.1,554.66 L290.1,554.81 L291.1,554.96 L292.1,555.12 L293.1,555.28 L294.1,555.45 L295.1,555.62 L296.1,555.80 L297.1,555.99 L298.1,556.17 L299.1,556.37 L300.1,556.57 L301.1,556.77 L302.1,556.98 L303.1,557.19 L304.1,557.40 L305.1,557.62 L306.1,557.85 L307.1,558.08 L308.1,558.31 L309.1,558.54 L310.1,558.78 L311.1,559.02 L312.1,559.26 L313.1,559.50 L314.1,559.75 L315.1,559.99 L316.1,560.24 L317.1,560.49 L318.1,560.74 L319.1,560.98 L320.1,561.23 L321.1,561.47 L322.1,561.72 L323.1,561.96 L324.1,562.20 L325.1,562.44 L326.1,562.68 L327.1,562.92 L328.1,563.15 L329.1,563.39 L330.1,563.62 L331.1,563.85 L332.1,564.07 L333.1,564.29 L334.1,564.51 L335.1,564.73 L336.1,564.94 L337.1,565.16 L338.1,565.36 L339.1,565.57 L340.1,565.77 L341.1,565.96 L342.1,566.15 L343.1,566.34 L344.1,566.52 L345.1,566.70 L346.1,566.87 L347.1,567.03 L348.1,567.19 L349.1,567.34 L350.1,567.48 L351.1,567.61 L352.1,567.74 L353.1,567.85 L354.1,567.95 L355.1,568.04 L356.1,568.11 L357.1,568.18 L358.1,568.22 L359.1,568.26 L360.1,568.27 L361.1,568.27 L362.1,568.25 L363.1,568.21 L364.1,568.15 L365.1,568.07 L366.1,567.97 L367.1,567.85 L368.1,567.71 L369.1,567.54 L370.1,567.35 L371.1,567.13 L372.1,566.90 L373.1,566.63 L374.1,566.35 L375.1,566.03 L376.1,565.70 L377.1,565.34 L378.1,564.96 L379.1,564.56 L380.1,564.13 L381.1,563.69 L382.1,563.22 L383.1,562.74 L384.1,562.24 L385.1,561.73 L386.1,561.20 L387.1,560.66 L388.1,560.11 L389.1,559.55 L390.1,558.98 L391.1,558.41 L392.1,557.84 L393.1,557.27 L394.1,556.70 L395.1,556.14 L396.1,555.59 L397.1,555.05 L398.1,554.52 L399.1,554.00 L400.1,553.50 L401.1,553.03 L402.1,552.58 L403.1,552.15 L404.1,551.75 L405.1,551.38 L406.1,551.04 L407.1,550.73 L408.1,550.46 L409.1,550.22 L410.1,550.03 L411.1,549.87 L412.1,549.76 L413.1,549.68 L414.1,549.65 L415.1,549.67 L416.1,549.72 L417.1,549.82 L418.1,549.97 L419.1,550.15 L420.1,550.39 L421.1,550.66 L422.1,550.98 L423.1,551.33 L424.1,551.73 L425.1,552.17 L426.1,552.64 L427.1,553.15 L428.1,553.69 L429.1,554.27 L430.1,554.88 L431.1,555.51 L432.1,556.17 L433.1,556.86 L434.1,557.57 L435.1,558.29 L436.1,559.04 L437.1,559.80 L438.1,560.57 L439.1,561.35 L440.1,562.14 L441.1,562.94 L442.1,563.74 L443.1,564.54 L444.1,565.34 L445.1,566.14 L446.1,566.93 L447.1,567.72 L448.1,568.50 L449.1,569.27 L450.1,570.03 L451.1,570.77 L452.1,571.50 L453.1,572.22 L454.1,572.92 L455.1,573.60 L456.1,574.26 L457.1,574.91 L458.1,575.53 L459.1,576.14 L460.1,576.72 L461.1,577.28 L462.1,577.82 L463.1,578.34 L464.1,578.84 L465.1,579.32 L466.1,579.77 L467.1,580.21 L468.1,580.62 L469.1,581.01 L470.1,581.39 L471.1,581.74 L472.1,582.07 L473.1,582.39 L474.1,582.69 L475.1,582.97 L476.1,583.23 L477.1,583.48 L478.1,583.71 L479.1,583.92 L480.1,584.13 L481.1,584.31 L482.1,584.49 L483.1,584.65 L484.1,584.80 L485.1,584.94 L486.1,585.07 L487.1,585.19 L488.1,585.30 L489.1,585.40 L490.1,585.50 L491.1,585.58 L492.1,585.66 L493.1,585.73 L494.1,585.80 L495.1,585.86 L496.1,585.91 L497.1,585.96 L498.1,586.01 L499.1,586.05 L500.1,586.09 L501.1,586.12 L502.1,586.15 L502.7,586.17 L502.7,586.4 Z" fill="#8dcebb" stroke="none"/>
<path d="M117.1,586.22 L118.1,586.20 L119.1,586.18 L120.1,586.15 L121.1,586.12 L122.1,586.09 L123.1,586.06 L124.1,586.02 L125.1,585.98 L126.1,585.94 L127.1,585.89 L128.1,585.84 L129.1,585.78 L130.1,585.72 L131.1,585.65 L132.1,585.58 L133.1,585.50 L134.1,585.42 L135.1,585.33 L136.1,585.23 L137.1,585.13 L138.1,585.02 L139.1,584.90 L140.1,584.77 L141.1,584.63 L142.1,584.49 L143.1,584.33 L144.1,584.17 L145.1,584.00 L146.1,583.81 L147.1,583.62 L148.1,583.41 L149.1,583.20 L150.1,582.97 L151.1,582.73 L152.1,582.48 L153.1,582.22 L154.1,581.94 L155.1,581.66 L156.1,581.36 L157.1,581.05 L158.1,580.73 L159.1,580.40 L160.1,580.05 L161.1,579.70 L162.1,579.33 L163.1,578.95 L164.1,578.56 L165.1,578.16 L166.1,577.75 L167.1,577.33 L168.1,576.90 L169.1,576.47 L170.1,576.02 L171.1,575.57 L172.1,575.11 L173.1,574.65 L174.1,574.18 L175.1,573.70 L176.1,573.23 L177.1,572.75 L178.1,572.26 L179.1,571.78 L180.1,571.29 L181.1,570.81 L182.1,570.33 L183.1,569.84 L184.1,569.36 L185.1,568.89 L186.1,568.42 L187.1,567.95 L188.1,567.49 L189.1,567.03 L190.1,566.58 L191.1,566.14 L192.1,565.70 L193.1,565.27 L194.1,564.85 L195.1,564.44 L196.1,564.03 L197.1,563.64 L198.1,563.25 L199.1,562.87 L200.1,562.50 L201.1,562.14 L202.1,561.79 L203.1,561.44 L204.1,561.11 L205.1,560.78 L206.1,560.46 L207.1,560.14 L208.1,559.84 L209.1,559.54 L210.1,559.25 L211.1,558.96 L212.1,558.68 L213.1,558.41 L214.1,558.14 L215.1,557.87 L216.1,557.61 L217.1,557.36 L218.1,557.10 L219.1,556.86 L220.1,556.61 L221.1,556.37 L222.1,556.14 L223.1,555.91 L224.1,555.68 L225.1,555.45 L226.1,555.23 L227.1,555.01 L228.1,554.80 L229.1,554.59 L230.1,554.39 L231.1,554.19 L232.1,554.00 L233.1,553.81 L234.1,553.63 L235.1,553.45 L236.1,553.28 L237.1,553.12 L238.1,552.97 L239.1,552.82 L240.1,552.68 L241.1,552.55 L242.1,552.43 L243.1,552.31 L244.1,552.21 L245.1,552.11 L246.1,552.03 L247.1,551.95 L248.1,551.88 L249.1,551.83 L250.1,551.78 L251.1,551.74 L252.1,551.71 L253.1,551.69 L254.1,551.68 L255.1,551.68 L256.1,551.68 L257.1,551.70 L258.1,551.72 L259.1,551.75 L260.1,551.78 L261.1,551.83 L262.1,551.88 L263.1,551.93 L264.1,551.99 L265.1,552.06 L266.1,552.13 L267.1,552.20 L268.1,552.28 L269.1,552.37 L270.1,552.45 L271.1,552.54 L272.1,552.64 L273.1,552.73 L274.1,552.83 L275.1,552.93 L276.1,553.04 L277.1,553.15 L278.1,553.25 L279.1,553.37 L280.1,553.48 L281.1,553.60 L282.1,553.72 L283.1,553.84 L284.1,553.97 L285.1,554.10 L286.1,554.23 L287.1,554.37 L288.1,554.51 L289.1,554.66 L290.1,554.81 L291.1,554.96 L292.1,555.12 L293.1,555.28 L294.1,555.45 L295.1,555.62 L296.1,555.80 L297.1,555.99 L298.1,556.17 L299.1,556.37 L300.1,556.57 L301.1,556.77 L302.1,556.98 L303.1,557.19 L304.1,557.40 L305.1,557.62 L306.1,557.85 L307.1,558.08 L308.1,558.31 L309.1,558.54 L310.1,558.78 L311.1,559.02 L312.1,559.26 L313.1,559.50 L314.1,559.75 L315.1,559.99 L316.1,560.24 L317.1,560.49 L318.1,560.74 L319.1,560.98 L320.1,561.23 L321.1,561.47 L322.1,561.72 L323.1,561.96 L324.1,562.20 L325.1,562.44 L326.1,562.68 L327.1,562.92 L328.1,563.15 L329.1,563.39 L330.1,563.62 L331.1,563.85 L332.1,564.07 L333.1,564.29 L334.1,564.51 L335.1,564.73 L336.1,564.94 L337.1,565.16 L338.1,565.36 L339.1,565.57 L340.1,565.77 L341.1,565.96 L342.1,566.15 L343.1,566.34 L344.1,566.52 L345.1,566.70 L346.1,566.87 L347.1,567.03 L348.1,567.19 L349.1,567.34 L350.1,567.48 L351.1,567.61 L352.1,567.74 L353.1,567.85 L354.1,567.95 L355.1,568.04 L356.1,568.11 L357.1,568.18 L358.1,568.22 L359.1,568.26 L360.1,568.27 L361.1,568.27 L362.1,568.25 L363.1,568.21 L364.1,568.15 L365.1,568.07 L366.1,567.97 L367.1,567.85 L368.1,567.71 L369.1,567.54 L370.1,567.35 L371.1,567.13 L372.1,566.90 L373.1,566.63 L374.1,566.35 L375.1,566.03 L376.1,565.70 L377.1,565.34 L378.1,564.96 L379.1,564.56 L380.1,564.13 L381.1,563.69 L382.1,563.22 L383.1,562.74 L384.1,562.24 L385.1,561.73 L386.1,561.20 L387.1,560.66 L388.1,560.11 L389.1,559.55 L390.1,558.98 L391.1,558.41 L392.1,557.84 L393.1,557.27 L394.1,556.70 L395.1,556.14 L396.1,555.59 L397.1,555.05 L398.1,554.52 L399.1,554.00 L400.1,553.50 L401.1,553.03 L402.1,552.58 L403.1,552.15 L404.1,551.75 L405.1,551.38 L406.1,551.04 L407.1,550.73 L408.1,550.46 L409.1,550.22 L410.1,550.03 L411.1,549.87 L412.1,549.76 L413.1,549.68 L414.1,549.65 L415.1,549.67 L416.1,549.72 L417.1,549.82 L418.1,549.97 L419.1,550.15 L420.1,550.39 L421.1,550.66 L422.1,550.98 L423.1,551.33 L424.1,551.73 L425.1,552.17 L426.1,552.64 L427.1,553.15 L428.1,553.69 L429.1,554.27 L430.1,554.88 L431.1,555.51 L432.1,556.17 L433.1,556.86 L434.1,557.57 L435.1,558.29 L436.1,559.04 L437.1,559.80 L438.1,560.57 L439.1,561.35 L440.1,562.14 L441.1,562.94 L442.1,563.74 L443.1,564.54 L444.1,565.34 L445.1,566.14 L446.1,566.93 L447.1,567.72 L448.1,568.50 L449.1,569.27 L450.1,570.03 L451.1,570.77 L452.1,571.50 L453.1,572.22 L454.1,572.92 L455.1,573.60 L456.1,574.26 L457.1,574.91 L458.1,575.53 L459.1,576.14 L460.1,576.72 L461.1,577.28 L462.1,577.82 L463.1,578.34 L464.1,578.84 L465.1,579.32 L466.1,579.77 L467.1,580.21 L468.1,580.62 L469.1,581.01 L470.1,581.39 L471.1,581.74 L472.1,582.07 L473.1,582.39 L474.1,582.69 L475.1,582.97 L476.1,583.23 L477.1,583.48 L478.1,583.71 L479.1,583.92 L480.1,584.13 L481.1,584.31 L482.1,584.49 L483.1,584.65 L484.1,584.80 L485.1,584.94 L486.1,585.07 L487.1,585.19 L488.1,585.30 L489.1,585.40 L490.1,585.50 L491.1,585.58 L492.1,585.66 L493.1,585.73 L494.1,585.80 L495.1,585.86 L496.1,585.91 L497.1,585.96 L498.1,586.01 L499.1,586.05 L500.1,586.09 L501.1,586.12 L502.1,586.15 L502.7,586.17" fill="none" stroke="#333" stroke-width="1.0"/>
<line x1="117.1" y1="586.4" x2="502.7" y2="586.4" stroke="#3a3a3a" stroke-width="0.95"/>
<line x1="194.8" y1="582.8" x2="194.8" y2="590.5" stroke="#1a1a1a" stroke-width="1.3"/>
<line x1="424.8" y1="582.8" x2="424.8" y2="590.5" stroke="#1a1a1a" stroke-width="1.3"/>
<rect x="246.8" y="578.65" width="164.90" height="15.95" fill="#1b9e77" stroke="#333333" stroke-width="1.05"/>
<line x1="293.9" y1="578.65" x2="293.9" y2="594.6" stroke="#1c1c1c" stroke-width="1.6"/>
<circle cx="194.50" cy="602.90" r="1.95" fill="#1b9e77"/>
<circle cx="197.20" cy="602.90" r="1.95" fill="#1b9e77"/>
<circle cx="194.80" cy="605.40" r="1.95" fill="#1b9e77"/>
<circle cx="197.80" cy="605.70" r="1.95" fill="#1b9e77"/>
<circle cx="200.30" cy="607.50" r="1.95" fill="#1b9e77"/>
<circle cx="203.10" cy="607.80" r="1.95" fill="#1b9e77"/>
<circle cx="195.40" cy="608.20" r="1.95" fill="#1b9e77"/>
<circle cx="194.80" cy="611.20" r="1.95" fill="#1b9e77"/>
<circle cx="198.50" cy="612.80" r="1.95" fill="#1b9e77"/>
<circle cx="201.50" cy="613.40" r="1.95" fill="#1b9e77"/>
<circle cx="203.40" cy="612.20" r="1.95" fill="#1b9e77"/>
<circle cx="204.60" cy="615.50" r="1.95" fill="#1b9e77"/>
<circle cx="200.90" cy="615.80" r="1.95" fill="#1b9e77"/>
<circle cx="197.50" cy="618.60" r="1.95" fill="#1b9e77"/>
<circle cx="200.30" cy="617.70" r="1.95" fill="#1b9e77"/>
<circle cx="207.70" cy="602.90" r="1.95" fill="#1b9e77"/>
<circle cx="210.80" cy="604.80" r="1.95" fill="#1b9e77"/>
<circle cx="208.00" cy="606.00" r="1.95" fill="#1b9e77"/>
<circle cx="208.00" cy="610.90" r="1.95" fill="#1b9e77"/>
<circle cx="208.90" cy="613.40" r="1.95" fill="#1b9e77"/>
<circle cx="211.40" cy="614.60" r="1.95" fill="#1b9e77"/>
<circle cx="208.90" cy="617.10" r="1.95" fill="#1b9e77"/>
<circle cx="205.80" cy="617.10" r="1.95" fill="#1b9e77"/>
<circle cx="238.90" cy="603.20" r="1.95" fill="#1b9e77"/>
<circle cx="237.40" cy="606.30" r="1.95" fill="#1b9e77"/>
<circle cx="238.60" cy="609.40" r="1.95" fill="#1b9e77"/>
<circle cx="242.90" cy="604.50" r="1.95" fill="#1b9e77"/>
<circle cx="242.30" cy="607.20" r="1.95" fill="#1b9e77"/>
<circle cx="247.20" cy="602.60" r="1.95" fill="#1b9e77"/>
<circle cx="249.40" cy="603.20" r="1.95" fill="#1b9e77"/>
<circle cx="245.40" cy="607.20" r="1.95" fill="#1b9e77"/>
<circle cx="247.80" cy="608.50" r="1.95" fill="#1b9e77"/>
<circle cx="250.90" cy="607.20" r="1.95" fill="#1b9e77"/>
<circle cx="253.70" cy="606.00" r="1.95" fill="#1b9e77"/>
<circle cx="254.00" cy="609.10" r="1.95" fill="#1b9e77"/>
<circle cx="245.40" cy="610.90" r="1.95" fill="#1b9e77"/>
<circle cx="250.30" cy="610.90" r="1.95" fill="#1b9e77"/>
<circle cx="242.60" cy="613.70" r="1.95" fill="#1b9e77"/>
<circle cx="245.40" cy="614.30" r="1.95" fill="#1b9e77"/>
<circle cx="250.90" cy="614.30" r="1.95" fill="#1b9e77"/>
<circle cx="253.40" cy="615.20" r="1.95" fill="#1b9e77"/>
<circle cx="242.90" cy="616.50" r="1.95" fill="#1b9e77"/>
<circle cx="242.30" cy="618.90" r="1.95" fill="#1b9e77"/>
<circle cx="248.50" cy="617.70" r="1.95" fill="#1b9e77"/>
<circle cx="250.90" cy="617.10" r="1.95" fill="#1b9e77"/>
<circle cx="285.90" cy="602.60" r="1.95" fill="#1b9e77"/>
<circle cx="284.70" cy="604.80" r="1.95" fill="#1b9e77"/>
<circle cx="282.20" cy="606.60" r="1.95" fill="#1b9e77"/>
<circle cx="287.20" cy="606.60" r="1.95" fill="#1b9e77"/>
<circle cx="281.00" cy="609.70" r="1.95" fill="#1b9e77"/>
<circle cx="284.40" cy="609.10" r="1.95" fill="#1b9e77"/>
<circle cx="282.80" cy="612.20" r="1.95" fill="#1b9e77"/>
<circle cx="289.00" cy="608.80" r="1.95" fill="#1b9e77"/>
<circle cx="288.40" cy="611.80" r="1.95" fill="#1b9e77"/>
<circle cx="292.70" cy="608.80" r="1.95" fill="#1b9e77"/>
<circle cx="294.80" cy="603.20" r="1.95" fill="#1b9e77"/>
<circle cx="292.70" cy="605.10" r="1.95" fill="#1b9e77"/>
<circle cx="295.80" cy="605.40" r="1.95" fill="#1b9e77"/>
<circle cx="295.50" cy="610.30" r="1.95" fill="#1b9e77"/>
<circle cx="296.40" cy="612.20" r="1.95" fill="#1b9e77"/>
<circle cx="280.40" cy="617.70" r="1.95" fill="#1b9e77"/>
<circle cx="285.00" cy="615.50" r="1.95" fill="#1b9e77"/>
<circle cx="287.20" cy="618.00" r="1.95" fill="#1b9e77"/>
<circle cx="291.50" cy="617.10" r="1.95" fill="#1b9e77"/>
<circle cx="293.00" cy="615.50" r="1.95" fill="#1b9e77"/>
<circle cx="297.00" cy="617.40" r="1.95" fill="#1b9e77"/>
<circle cx="326.80" cy="604.20" r="1.95" fill="#1b9e77"/>
<circle cx="328.60" cy="602.90" r="1.95" fill="#1b9e77"/>
<circle cx="330.80" cy="605.70" r="1.95" fill="#1b9e77"/>
<circle cx="335.10" cy="604.50" r="1.95" fill="#1b9e77"/>
<circle cx="336.30" cy="605.70" r="1.95" fill="#1b9e77"/>
<circle cx="333.50" cy="608.50" r="1.95" fill="#1b9e77"/>
<circle cx="323.40" cy="609.10" r="1.95" fill="#1b9e77"/>
<circle cx="322.80" cy="610.90" r="1.95" fill="#1b9e77"/>
<circle cx="326.80" cy="611.80" r="1.95" fill="#1b9e77"/>
<circle cx="328.90" cy="614.00" r="1.95" fill="#1b9e77"/>
<circle cx="325.20" cy="616.20" r="1.95" fill="#1b9e77"/>
<circle cx="333.50" cy="611.50" r="1.95" fill="#1b9e77"/>
<circle cx="333.50" cy="614.00" r="1.95" fill="#1b9e77"/>
<circle cx="338.50" cy="610.30" r="1.95" fill="#1b9e77"/>
<circle cx="339.40" cy="612.20" r="1.95" fill="#1b9e77"/>
<circle cx="335.70" cy="616.20" r="1.95" fill="#1b9e77"/>
<circle cx="333.80" cy="618.60" r="1.95" fill="#1b9e77"/>
<circle cx="366.40" cy="604.60" r="1.95" fill="#1b9e77"/>
<circle cx="383.00" cy="604.80" r="1.95" fill="#1b9e77"/>
<circle cx="381.20" cy="609.70" r="1.95" fill="#1b9e77"/>
<circle cx="379.60" cy="610.60" r="1.95" fill="#1b9e77"/>
<circle cx="375.30" cy="613.70" r="1.95" fill="#1b9e77"/>
<circle cx="376.20" cy="614.90" r="1.95" fill="#1b9e77"/>
<circle cx="367.60" cy="616.80" r="1.95" fill="#1b9e77"/>
<circle cx="369.80" cy="619.20" r="1.95" fill="#1b9e77"/>
<circle cx="379.90" cy="617.70" r="1.95" fill="#1b9e77"/>
<circle cx="416.17" cy="602.87" r="1.95" fill="#1b9e77"/>
<circle cx="413.28" cy="604.34" r="1.95" fill="#1b9e77"/>
<circle cx="415.44" cy="604.73" r="1.95" fill="#1b9e77"/>
<circle cx="416.66" cy="604.85" r="1.95" fill="#1b9e77"/>
<circle cx="418.73" cy="604.43" r="1.95" fill="#1b9e77"/>
<circle cx="410.46" cy="606.18" r="1.95" fill="#1b9e77"/>
<circle cx="413.81" cy="606.81" r="1.95" fill="#1b9e77"/>
<circle cx="415.65" cy="606.29" r="1.95" fill="#1b9e77"/>
<circle cx="418.17" cy="606.27" r="1.95" fill="#1b9e77"/>
<circle cx="420.28" cy="606.13" r="1.95" fill="#1b9e77"/>
<circle cx="409.37" cy="608.20" r="1.95" fill="#1b9e77"/>
<circle cx="411.22" cy="607.64" r="1.95" fill="#1b9e77"/>
<circle cx="413.42" cy="607.80" r="1.95" fill="#1b9e77"/>
<circle cx="415.09" cy="608.27" r="1.95" fill="#1b9e77"/>
<circle cx="416.70" cy="607.58" r="1.95" fill="#1b9e77"/>
<circle cx="418.56" cy="608.09" r="1.95" fill="#1b9e77"/>
<circle cx="410.33" cy="609.34" r="1.95" fill="#1b9e77"/>
<circle cx="412.14" cy="609.49" r="1.95" fill="#1b9e77"/>
<circle cx="414.42" cy="609.51" r="1.95" fill="#1b9e77"/>
<circle cx="416.19" cy="610.09" r="1.95" fill="#1b9e77"/>
<circle cx="418.33" cy="609.55" r="1.95" fill="#1b9e77"/>
<circle cx="419.94" cy="609.50" r="1.95" fill="#1b9e77"/>
<circle cx="408.98" cy="611.56" r="1.95" fill="#1b9e77"/>
<circle cx="410.95" cy="611.51" r="1.95" fill="#1b9e77"/>
<circle cx="413.08" cy="611.71" r="1.95" fill="#1b9e77"/>
<circle cx="415.42" cy="610.92" r="1.95" fill="#1b9e77"/>
<circle cx="416.72" cy="611.72" r="1.95" fill="#1b9e77"/>
<circle cx="419.00" cy="611.25" r="1.95" fill="#1b9e77"/>
<circle cx="421.05" cy="611.60" r="1.95" fill="#1b9e77"/>
<circle cx="422.69" cy="611.29" r="1.95" fill="#1b9e77"/>
<circle cx="424.24" cy="611.19" r="1.95" fill="#1b9e77"/>
<circle cx="410.47" cy="612.61" r="1.95" fill="#1b9e77"/>
<circle cx="411.89" cy="613.10" r="1.95" fill="#1b9e77"/>
<circle cx="414.12" cy="613.33" r="1.95" fill="#1b9e77"/>
<circle cx="416.17" cy="613.15" r="1.95" fill="#1b9e77"/>
<circle cx="417.61" cy="613.27" r="1.95" fill="#1b9e77"/>
<circle cx="419.48" cy="613.08" r="1.95" fill="#1b9e77"/>
<circle cx="422.12" cy="613.34" r="1.95" fill="#1b9e77"/>
<circle cx="424.00" cy="612.93" r="1.95" fill="#1b9e77"/>
<circle cx="411.55" cy="614.58" r="1.95" fill="#1b9e77"/>
<circle cx="413.00" cy="614.82" r="1.95" fill="#1b9e77"/>
<circle cx="414.71" cy="614.89" r="1.95" fill="#1b9e77"/>
<circle cx="417.43" cy="614.43" r="1.95" fill="#1b9e77"/>
<circle cx="419.30" cy="614.25" r="1.95" fill="#1b9e77"/>
<circle cx="421.12" cy="614.43" r="1.95" fill="#1b9e77"/>
<circle cx="423.12" cy="614.56" r="1.95" fill="#1b9e77"/>
<circle cx="424.98" cy="614.20" r="1.95" fill="#1b9e77"/>
<circle cx="412.13" cy="615.87" r="1.95" fill="#1b9e77"/>
<circle cx="414.59" cy="616.52" r="1.95" fill="#1b9e77"/>
<circle cx="416.45" cy="616.46" r="1.95" fill="#1b9e77"/>
<circle cx="417.81" cy="615.90" r="1.95" fill="#1b9e77"/>
<circle cx="420.06" cy="615.93" r="1.95" fill="#1b9e77"/>
<circle cx="421.79" cy="616.24" r="1.95" fill="#1b9e77"/>
<circle cx="423.65" cy="615.89" r="1.95" fill="#1b9e77"/>
<circle cx="417.37" cy="617.86" r="1.95" fill="#1b9e77"/>
<circle cx="418.60" cy="617.76" r="1.95" fill="#1b9e77"/>
<circle cx="420.57" cy="618.00" r="1.95" fill="#1b9e77"/>
<circle cx="422.96" cy="617.99" r="1.95" fill="#1b9e77"/>
<circle cx="419.75" cy="619.19" r="1.95" fill="#1b9e77"/>
<circle cx="409.07" cy="605.81" r="1.95" fill="#1b9e77"/>
<circle cx="409.74" cy="608.32" r="1.95" fill="#1b9e77"/>
<circle cx="409.49" cy="612.07" r="1.95" fill="#1b9e77"/>
<circle cx="410.43" cy="613.97" r="1.95" fill="#1b9e77"/>
<circle cx="412.73" cy="616.75" r="1.95" fill="#1b9e77"/>
<circle cx="414.80" cy="617.56" r="1.95" fill="#1b9e77"/>
<circle cx="417.52" cy="617.83" r="1.95" fill="#1b9e77"/>
<circle cx="424.06" cy="617.67" r="1.95" fill="#1b9e77"/>
<circle cx="424.80" cy="615.11" r="1.95" fill="#1b9e77"/>
<circle cx="424.59" cy="611.70" r="1.95" fill="#1b9e77"/>
<circle cx="422.08" cy="611.09" r="1.95" fill="#1b9e77"/>
<circle cx="420.40" cy="610.29" r="1.95" fill="#1b9e77"/>
<circle cx="420.30" cy="606.68" r="1.95" fill="#1b9e77"/>
<circle cx="418.44" cy="604.43" r="1.95" fill="#1b9e77"/>
<circle cx="416.26" cy="603.53" r="1.95" fill="#1b9e77"/>
<circle cx="414.28" cy="604.66" r="1.95" fill="#1b9e77"/>
<circle cx="414.02" cy="607.64" r="1.95" fill="#1b9e77"/>
<circle cx="410.83" cy="608.23" r="1.95" fill="#1b9e77"/>
<line x1="202.5" y1="294.4" x2="418" y2="294.4" stroke="#9a9a9a" stroke-width="1"/>
<line x1="202.50" y1="294.4" x2="202.50" y2="298.5" stroke="#9a9a9a" stroke-width="1"/>
<text transform="translate(202.50,308.00) scale(1.0,1.08)" class="tick" style="font-size:8.4px" text-anchor="middle">0</text>
<line x1="245.60" y1="294.4" x2="245.60" y2="298.5" stroke="#9a9a9a" stroke-width="1"/>
<text transform="translate(245.60,308.00) scale(1.0,1.08)" class="tick" style="font-size:8.4px" text-anchor="middle">1</text>
<line x1="288.70" y1="294.4" x2="288.70" y2="298.5" stroke="#9a9a9a" stroke-width="1"/>
<text transform="translate(288.70,308.00) scale(1.0,1.08)" class="tick" style="font-size:8.4px" text-anchor="middle">2</text>
<line x1="331.80" y1="294.4" x2="331.80" y2="298.5" stroke="#9a9a9a" stroke-width="1"/>
<text transform="translate(331.80,308.00) scale(1.0,1.08)" class="tick" style="font-size:8.4px" text-anchor="middle">3</text>
<line x1="374.90" y1="294.4" x2="374.90" y2="298.5" stroke="#9a9a9a" stroke-width="1"/>
<text transform="translate(374.90,308.00) scale(1.0,1.08)" class="tick" style="font-size:8.4px" text-anchor="middle">4</text>
<line x1="418.00" y1="294.4" x2="418.00" y2="298.5" stroke="#9a9a9a" stroke-width="1"/>
<text transform="translate(418.00,308.00) scale(1.0,1.08)" class="tick" style="font-size:8.4px" text-anchor="middle">5</text>
<text transform="translate(310.60,324.20) scale(1.0,1.07)" class="xlab" style="font-size:9.75px" text-anchor="middle">Donations (with Jitter)</text>
<line x1="202.5" y1="631.2" x2="418" y2="631.2" stroke="#9a9a9a" stroke-width="1"/>
<line x1="202.50" y1="631.2" x2="202.50" y2="635.3000000000001" stroke="#9a9a9a" stroke-width="1"/>
<text transform="translate(202.50,644.80) scale(1.0,1.08)" class="tick" style="font-size:8.4px" text-anchor="middle">0</text>
<line x1="245.60" y1="631.2" x2="245.60" y2="635.3000000000001" stroke="#9a9a9a" stroke-width="1"/>
<text transform="translate(245.60,644.80) scale(1.0,1.08)" class="tick" style="font-size:8.4px" text-anchor="middle">1</text>
<line x1="288.70" y1="631.2" x2="288.70" y2="635.3000000000001" stroke="#9a9a9a" stroke-width="1"/>
<text transform="translate(288.70,644.80) scale(1.0,1.08)" class="tick" style="font-size:8.4px" text-anchor="middle">2</text>
<line x1="331.80" y1="631.2" x2="331.80" y2="635.3000000000001" stroke="#9a9a9a" stroke-width="1"/>
<text transform="translate(331.80,644.80) scale(1.0,1.08)" class="tick" style="font-size:8.4px" text-anchor="middle">3</text>
<line x1="374.90" y1="631.2" x2="374.90" y2="635.3000000000001" stroke="#9a9a9a" stroke-width="1"/>
<text transform="translate(374.90,644.80) scale(1.0,1.08)" class="tick" style="font-size:8.4px" text-anchor="middle">4</text>
<line x1="418.00" y1="631.2" x2="418.00" y2="635.3000000000001" stroke="#9a9a9a" stroke-width="1"/>
<text transform="translate(418.00,644.80) scale(1.0,1.08)" class="tick" style="font-size:8.4px" text-anchor="middle">5</text>
<text transform="translate(310.60,661.00) scale(1.0,1.07)" class="xlab" style="font-size:9.75px" text-anchor="middle">Donations (with Jitter)</text>
<text transform="translate(9.60,164.75) rotate(-90) scale(1.0,1.1)" class="ylab2" style="font-size:9.8px" text-anchor="middle">Identifiability</text>
<text transform="translate(9.60,500.20) rotate(-90) scale(1.0,1.1)" class="ylab2" style="font-size:9.8px" text-anchor="middle">Identifiability</text>
</svg>
</body></html>
